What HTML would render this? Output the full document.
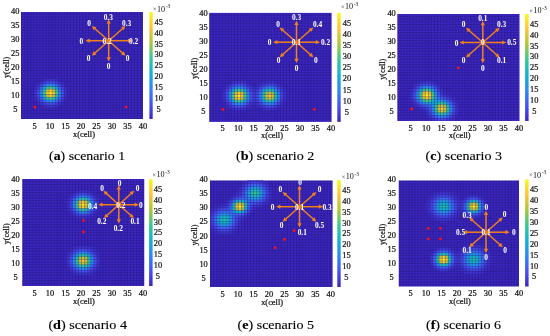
<!DOCTYPE html><html><head><meta charset="utf-8"><title>scenarios</title>
<style>html,body{margin:0;padding:0;background:#fff;}svg{display:block;}text{font-family:'Liberation Serif','Times New Roman',serif;}text.k{stroke:#111;stroke-width:0.22px;}</style></head><body>
<svg width="550" height="336" viewBox="0 0 550 336">
<defs><linearGradient id="cbg" x1="0" y1="0" x2="0" y2="1"><stop offset="0.000" stop-color="#f9fb15"/><stop offset="0.036" stop-color="#faed1d"/><stop offset="0.071" stop-color="#fcdf26"/><stop offset="0.107" stop-color="#fdd12f"/><stop offset="0.143" stop-color="#fec338"/><stop offset="0.179" stop-color="#eac438"/><stop offset="0.214" stop-color="#d5c538"/><stop offset="0.250" stop-color="#c0c639"/><stop offset="0.286" stop-color="#abc739"/><stop offset="0.321" stop-color="#8ec750"/><stop offset="0.357" stop-color="#71c768"/><stop offset="0.393" stop-color="#54c87f"/><stop offset="0.429" stop-color="#37c897"/><stop offset="0.464" stop-color="#2ec2a7"/><stop offset="0.500" stop-color="#24bdb7"/><stop offset="0.536" stop-color="#1bb7c6"/><stop offset="0.571" stop-color="#12b1d6"/><stop offset="0.607" stop-color="#19a7de"/><stop offset="0.643" stop-color="#209ce6"/><stop offset="0.679" stop-color="#2791ef"/><stop offset="0.714" stop-color="#2e87f7"/><stop offset="0.750" stop-color="#347af6"/><stop offset="0.786" stop-color="#3b6df6"/><stop offset="0.821" stop-color="#415ff5"/><stop offset="0.857" stop-color="#4852f4"/><stop offset="0.893" stop-color="#4547e8"/><stop offset="0.929" stop-color="#413cdb"/><stop offset="0.964" stop-color="#3e31ce"/><stop offset="1.000" stop-color="#3b26c2"/></linearGradient></defs>
<g><rect x="21" y="12" width="122" height="107" fill="#3b26c2"/><rect x="42.96" y="78.5" width="3.07" height="2.69" fill="#3d2ecb"/><rect x="46.01" y="78.5" width="3.07" height="2.69" fill="#3f32cf"/><rect x="49.06" y="78.5" width="3.07" height="2.69" fill="#3f34d1"/><rect x="52.11" y="78.5" width="3.07" height="2.69" fill="#3f32cf"/><rect x="55.16" y="78.5" width="3.07" height="2.69" fill="#3d2ecb"/><rect x="36.86" y="81.18" width="3.07" height="2.69" fill="#3d2cc8"/><rect x="39.91" y="81.18" width="3.07" height="2.69" fill="#3f34d1"/><rect x="42.96" y="81.18" width="3.07" height="2.69" fill="#4240df"/><rect x="46.01" y="81.18" width="3.07" height="2.69" fill="#464bec"/><rect x="49.06" y="81.18" width="3.07" height="2.69" fill="#4750f2"/><rect x="52.11" y="81.18" width="3.07" height="2.69" fill="#464bec"/><rect x="55.16" y="81.18" width="3.07" height="2.69" fill="#4240df"/><rect x="58.21" y="81.18" width="3.07" height="2.69" fill="#3f34d1"/><rect x="61.26" y="81.18" width="3.07" height="2.69" fill="#3d2cc8"/><rect x="36.86" y="83.85" width="3.07" height="2.69" fill="#3f34d1"/><rect x="39.91" y="83.85" width="3.07" height="2.69" fill="#4447e7"/><rect x="42.96" y="83.85" width="3.07" height="2.69" fill="#3e66f5"/><rect x="46.01" y="83.85" width="3.07" height="2.69" fill="#2d87f7"/><rect x="49.06" y="83.85" width="3.07" height="2.69" fill="#2692ee"/><rect x="52.11" y="83.85" width="3.07" height="2.69" fill="#2d87f7"/><rect x="55.16" y="83.85" width="3.07" height="2.69" fill="#3e66f5"/><rect x="58.21" y="83.85" width="3.07" height="2.69" fill="#4447e7"/><rect x="61.26" y="83.85" width="3.07" height="2.69" fill="#3f34d1"/><rect x="33.81" y="86.53" width="3.07" height="2.69" fill="#3d2ecb"/><rect x="36.86" y="86.53" width="3.07" height="2.69" fill="#4240df"/><rect x="39.91" y="86.53" width="3.07" height="2.69" fill="#3e66f5"/><rect x="42.96" y="86.53" width="3.07" height="2.69" fill="#1d9fe4"/><rect x="46.01" y="86.53" width="3.07" height="2.69" fill="#2ec2a7"/><rect x="49.06" y="86.53" width="3.07" height="2.69" fill="#54c880"/><rect x="52.11" y="86.53" width="3.07" height="2.69" fill="#2ec2a7"/><rect x="55.16" y="86.53" width="3.07" height="2.69" fill="#1d9fe4"/><rect x="58.21" y="86.53" width="3.07" height="2.69" fill="#3e66f5"/><rect x="61.26" y="86.53" width="3.07" height="2.69" fill="#4240df"/><rect x="64.31" y="86.53" width="3.07" height="2.69" fill="#3d2ecb"/><rect x="33.81" y="89.2" width="3.07" height="2.7" fill="#3f32cf"/><rect x="36.86" y="89.2" width="3.07" height="2.7" fill="#464bec"/><rect x="39.91" y="89.2" width="3.07" height="2.7" fill="#2d87f7"/><rect x="42.96" y="89.2" width="3.07" height="2.7" fill="#2ec2a7"/><rect x="46.01" y="89.2" width="3.07" height="2.7" fill="#d1c538"/><rect x="49.06" y="89.2" width="3.07" height="2.7" fill="#fdcd32"/><rect x="52.11" y="89.2" width="3.07" height="2.7" fill="#d1c538"/><rect x="55.16" y="89.2" width="3.07" height="2.7" fill="#2ec2a7"/><rect x="58.21" y="89.2" width="3.07" height="2.7" fill="#2d87f7"/><rect x="61.26" y="89.2" width="3.07" height="2.7" fill="#464bec"/><rect x="64.31" y="89.2" width="3.07" height="2.7" fill="#3f32cf"/><rect x="33.81" y="91.88" width="3.07" height="2.69" fill="#3f34d1"/><rect x="36.86" y="91.88" width="3.07" height="2.69" fill="#4750f2"/><rect x="39.91" y="91.88" width="3.07" height="2.69" fill="#2692ee"/><rect x="42.96" y="91.88" width="3.07" height="2.69" fill="#54c880"/><rect x="46.01" y="91.88" width="3.07" height="2.69" fill="#fdcd32"/><rect x="49.06" y="91.88" width="3.07" height="2.69" fill="#f9fb15"/><rect x="52.11" y="91.88" width="3.07" height="2.69" fill="#fdcd32"/><rect x="55.16" y="91.88" width="3.07" height="2.69" fill="#54c880"/><rect x="58.21" y="91.88" width="3.07" height="2.69" fill="#2692ee"/><rect x="61.26" y="91.88" width="3.07" height="2.69" fill="#4750f2"/><rect x="64.31" y="91.88" width="3.07" height="2.69" fill="#3f34d1"/><rect x="33.81" y="94.55" width="3.07" height="2.69" fill="#3f32cf"/><rect x="36.86" y="94.55" width="3.07" height="2.69" fill="#464bec"/><rect x="39.91" y="94.55" width="3.07" height="2.69" fill="#2d87f7"/><rect x="42.96" y="94.55" width="3.07" height="2.69" fill="#2ec2a7"/><rect x="46.01" y="94.55" width="3.07" height="2.69" fill="#d1c538"/><rect x="49.06" y="94.55" width="3.07" height="2.69" fill="#fdcd32"/><rect x="52.11" y="94.55" width="3.07" height="2.69" fill="#d1c538"/><rect x="55.16" y="94.55" width="3.07" height="2.69" fill="#2ec2a7"/><rect x="58.21" y="94.55" width="3.07" height="2.69" fill="#2d87f7"/><rect x="61.26" y="94.55" width="3.07" height="2.69" fill="#464bec"/><rect x="64.31" y="94.55" width="3.07" height="2.69" fill="#3f32cf"/><rect x="33.81" y="97.23" width="3.07" height="2.69" fill="#3d2ecb"/><rect x="36.86" y="97.23" width="3.07" height="2.69" fill="#4240df"/><rect x="39.91" y="97.23" width="3.07" height="2.69" fill="#3e66f5"/><rect x="42.96" y="97.23" width="3.07" height="2.69" fill="#1d9fe4"/><rect x="46.01" y="97.23" width="3.07" height="2.69" fill="#2ec2a7"/><rect x="49.06" y="97.23" width="3.07" height="2.69" fill="#54c880"/><rect x="52.11" y="97.23" width="3.07" height="2.69" fill="#2ec2a7"/><rect x="55.16" y="97.23" width="3.07" height="2.69" fill="#1d9fe4"/><rect x="58.21" y="97.23" width="3.07" height="2.69" fill="#3e66f5"/><rect x="61.26" y="97.23" width="3.07" height="2.69" fill="#4240df"/><rect x="64.31" y="97.23" width="3.07" height="2.69" fill="#3d2ecb"/><rect x="36.86" y="99.9" width="3.07" height="2.69" fill="#3f34d1"/><rect x="39.91" y="99.9" width="3.07" height="2.69" fill="#4447e7"/><rect x="42.96" y="99.9" width="3.07" height="2.69" fill="#3e66f5"/><rect x="46.01" y="99.9" width="3.07" height="2.69" fill="#2d87f7"/><rect x="49.06" y="99.9" width="3.07" height="2.69" fill="#2692ee"/><rect x="52.11" y="99.9" width="3.07" height="2.69" fill="#2d87f7"/><rect x="55.16" y="99.9" width="3.07" height="2.69" fill="#3e66f5"/><rect x="58.21" y="99.9" width="3.07" height="2.69" fill="#4447e7"/><rect x="61.26" y="99.9" width="3.07" height="2.69" fill="#3f34d1"/><rect x="36.86" y="102.58" width="3.07" height="2.7" fill="#3d2cc8"/><rect x="39.91" y="102.58" width="3.07" height="2.7" fill="#3f34d1"/><rect x="42.96" y="102.58" width="3.07" height="2.7" fill="#4240df"/><rect x="46.01" y="102.58" width="3.07" height="2.7" fill="#464bec"/><rect x="49.06" y="102.58" width="3.07" height="2.7" fill="#4750f2"/><rect x="52.11" y="102.58" width="3.07" height="2.7" fill="#464bec"/><rect x="55.16" y="102.58" width="3.07" height="2.7" fill="#4240df"/><rect x="58.21" y="102.58" width="3.07" height="2.7" fill="#3f34d1"/><rect x="61.26" y="102.58" width="3.07" height="2.7" fill="#3d2cc8"/><rect x="42.96" y="105.25" width="3.07" height="2.69" fill="#3d2ecb"/><rect x="46.01" y="105.25" width="3.07" height="2.69" fill="#3f32cf"/><rect x="49.06" y="105.25" width="3.07" height="2.69" fill="#3f34d1"/><rect x="52.11" y="105.25" width="3.07" height="2.69" fill="#3f32cf"/><rect x="55.16" y="105.25" width="3.07" height="2.69" fill="#3d2ecb"/><path d="M21.61,12V119M24.66,12V119M27.71,12V119M30.76,12V119M33.81,12V119M36.86,12V119M39.91,12V119M42.96,12V119M46.01,12V119M49.06,12V119M52.11,12V119M55.16,12V119M58.21,12V119M61.26,12V119M64.31,12V119M67.36,12V119M70.41,12V119M73.46,12V119M76.51,12V119M79.56,12V119M82.61,12V119M85.66,12V119M88.71,12V119M91.76,12V119M94.81,12V119M97.86,12V119M100.91,12V119M103.96,12V119M107.01,12V119M110.06,12V119M113.11,12V119M116.16,12V119M119.21,12V119M122.26,12V119M125.31,12V119M128.36,12V119M131.41,12V119M134.46,12V119M137.51,12V119M140.56,12V119M21,14.3H143M21,16.98H143M21,19.65H143M21,22.33H143M21,25H143M21,27.68H143M21,30.35H143M21,33.03H143M21,35.7H143M21,38.38H143M21,41.05H143M21,43.73H143M21,46.4H143M21,49.08H143M21,51.75H143M21,54.43H143M21,57.1H143M21,59.78H143M21,62.45H143M21,65.13H143M21,67.8H143M21,70.48H143M21,73.15H143M21,75.83H143M21,78.5H143M21,81.18H143M21,83.85H143M21,86.53H143M21,89.2H143M21,91.88H143M21,94.55H143M21,97.23H143M21,99.9H143M21,102.58H143M21,105.25H143M21,107.93H143M21,110.6H143M21,113.28H143M21,115.95H143M21,118.63H143" stroke="#000" stroke-opacity="0.2" stroke-width="0.8" fill="none"/><circle cx="34.9" cy="107.1" r="1.4" fill="#ff1010"/><circle cx="126.2" cy="107.1" r="1.4" fill="#ff1010"/><line x1="108.7" y1="40.7" x2="108.7" y2="23" stroke="#f3801a" stroke-width="1.5"/><polygon points="108.7,19.3 110.8,23.5 106.6,23.5" fill="#f3801a"/><line x1="108.7" y1="40.7" x2="122.72" y2="28.44" stroke="#f3801a" stroke-width="1.5"/><polygon points="125.5,26 123.72,30.35 120.96,27.19" fill="#f3801a"/><line x1="108.7" y1="40.7" x2="128.5" y2="40.7" stroke="#f3801a" stroke-width="1.5"/><polygon points="132.2,40.7 128,42.8 128,38.6" fill="#f3801a"/><line x1="108.7" y1="40.7" x2="122.74" y2="53.24" stroke="#f3801a" stroke-width="1.5"/><polygon points="125.5,55.7 120.97,54.47 123.77,51.34" fill="#f3801a"/><line x1="108.7" y1="40.7" x2="108.7" y2="57.8" stroke="#f3801a" stroke-width="1.5"/><polygon points="108.7,61.5 106.6,57.3 110.8,57.3" fill="#f3801a"/><line x1="108.7" y1="40.7" x2="94.66" y2="53.24" stroke="#f3801a" stroke-width="1.5"/><polygon points="91.9,55.7 93.63,51.34 96.43,54.47" fill="#f3801a"/><line x1="108.7" y1="40.7" x2="89.1" y2="40.7" stroke="#f3801a" stroke-width="1.5"/><polygon points="85.4,40.7 89.6,38.6 89.6,42.8" fill="#f3801a"/><line x1="108.7" y1="40.7" x2="94.68" y2="28.44" stroke="#f3801a" stroke-width="1.5"/><polygon points="91.9,26 96.44,27.19 93.68,30.35" fill="#f3801a"/><text transform="translate(108.3,17.4) scale(1,1.0)" font-size="7.4" font-weight="bold" fill="#fff" text-anchor="middle" dominant-baseline="central">0.3</text><text transform="translate(126.7,23.2) scale(1,1.0)" font-size="7.4" font-weight="bold" fill="#fff" text-anchor="middle" dominant-baseline="central">0.3</text><text transform="translate(133.7,41.6) scale(1,1.0)" font-size="7.4" font-weight="bold" fill="#fff" text-anchor="middle" dominant-baseline="central">0.2</text><text transform="translate(127.5,58.7) scale(1,1.0)" font-size="7.4" font-weight="bold" fill="#fff" text-anchor="middle" dominant-baseline="central">0</text><text transform="translate(108.7,66.6) scale(1,1.0)" font-size="7.4" font-weight="bold" fill="#fff" text-anchor="middle" dominant-baseline="central">0</text><text transform="translate(88.7,58.7) scale(1,1.0)" font-size="7.4" font-weight="bold" fill="#fff" text-anchor="middle" dominant-baseline="central">0</text><text transform="translate(81.3,41.6) scale(1,1.0)" font-size="7.4" font-weight="bold" fill="#fff" text-anchor="middle" dominant-baseline="central">0</text><text transform="translate(89.2,23.7) scale(1,1.0)" font-size="7.4" font-weight="bold" fill="#fff" text-anchor="middle" dominant-baseline="central">0</text><text transform="translate(107.2,41.6) scale(1,1.0)" font-size="7.4" font-weight="bold" fill="#fff" text-anchor="middle" dominant-baseline="central">0.2</text><text transform="translate(15.3,11.6) scale(1,1.0)" font-size="8.4" fill="#111" text-anchor="middle" dominant-baseline="central" class="k">40</text><text transform="translate(15.3,25.63) scale(1,1.0)" font-size="8.4" fill="#111" text-anchor="middle" dominant-baseline="central" class="k">35</text><text transform="translate(15.3,39.66) scale(1,1.0)" font-size="8.4" fill="#111" text-anchor="middle" dominant-baseline="central" class="k">30</text><text transform="translate(15.3,53.69) scale(1,1.0)" font-size="8.4" fill="#111" text-anchor="middle" dominant-baseline="central" class="k">25</text><text transform="translate(15.3,67.71) scale(1,1.0)" font-size="8.4" fill="#111" text-anchor="middle" dominant-baseline="central" class="k">20</text><text transform="translate(15.3,81.74) scale(1,1.0)" font-size="8.4" fill="#111" text-anchor="middle" dominant-baseline="central" class="k">15</text><text transform="translate(15.3,95.77) scale(1,1.0)" font-size="8.4" fill="#111" text-anchor="middle" dominant-baseline="central" class="k">10</text><text transform="translate(15.3,109.8) scale(1,1.0)" font-size="8.4" fill="#111" text-anchor="middle" dominant-baseline="central" class="k">5</text><text transform="translate(34.5,126.2) scale(1,1.0)" font-size="8.4" fill="#111" text-anchor="middle" dominant-baseline="central" class="k">5</text><text transform="translate(49.99,126.2) scale(1,1.0)" font-size="8.4" fill="#111" text-anchor="middle" dominant-baseline="central" class="k">10</text><text transform="translate(65.47,126.2) scale(1,1.0)" font-size="8.4" fill="#111" text-anchor="middle" dominant-baseline="central" class="k">15</text><text transform="translate(80.96,126.2) scale(1,1.0)" font-size="8.4" fill="#111" text-anchor="middle" dominant-baseline="central" class="k">20</text><text transform="translate(96.44,126.2) scale(1,1.0)" font-size="8.4" fill="#111" text-anchor="middle" dominant-baseline="central" class="k">25</text><text transform="translate(111.93,126.2) scale(1,1.0)" font-size="8.4" fill="#111" text-anchor="middle" dominant-baseline="central" class="k">30</text><text transform="translate(127.41,126.2) scale(1,1.0)" font-size="8.4" fill="#111" text-anchor="middle" dominant-baseline="central" class="k">35</text><text transform="translate(142.9,126.2) scale(1,1.0)" font-size="8.4" fill="#111" text-anchor="middle" dominant-baseline="central" class="k">40</text><text transform="translate(84,134.5) scale(1,1.0)" font-size="8.4" fill="#111" text-anchor="middle" dominant-baseline="central" class="k">x(cell)</text><text transform="translate(6.7,67.4) rotate(-90) scale(1,1)" font-size="8.1" fill="#111" class="k" text-anchor="middle" dominant-baseline="central">y(cell)</text><rect x="149.4" y="12" width="3.3" height="107" fill="url(#cbg)"/><text transform="translate(158.7,109.4) scale(1,1.0)" font-size="8.4" fill="#111" text-anchor="middle" dominant-baseline="central" class="k">5</text><text transform="translate(158.7,98.51) scale(1,1.0)" font-size="8.4" fill="#111" text-anchor="middle" dominant-baseline="central" class="k">10</text><text transform="translate(158.7,87.62) scale(1,1.0)" font-size="8.4" fill="#111" text-anchor="middle" dominant-baseline="central" class="k">15</text><text transform="translate(158.7,76.74) scale(1,1.0)" font-size="8.4" fill="#111" text-anchor="middle" dominant-baseline="central" class="k">20</text><text transform="translate(158.7,65.85) scale(1,1.0)" font-size="8.4" fill="#111" text-anchor="middle" dominant-baseline="central" class="k">25</text><text transform="translate(158.7,54.96) scale(1,1.0)" font-size="8.4" fill="#111" text-anchor="middle" dominant-baseline="central" class="k">30</text><text transform="translate(158.7,44.08) scale(1,1.0)" font-size="8.4" fill="#111" text-anchor="middle" dominant-baseline="central" class="k">35</text><text transform="translate(158.7,33.19) scale(1,1.0)" font-size="8.4" fill="#111" text-anchor="middle" dominant-baseline="central" class="k">40</text><text transform="translate(158.7,22.3) scale(1,1.0)" font-size="8.4" fill="#111" text-anchor="middle" dominant-baseline="central" class="k">45</text><text transform="translate(157,11.9) scale(1,1)" font-size="8.2" fill="#111"><tspan font-size="6" x="-4" dy="-0.6">&#215;</tspan><tspan x="0" dy="0.6">10</tspan><tspan font-size="5.4" dx="0.6" dy="-3.6">-3</tspan></text><text x="49.1" y="160" font-size="12" fill="#000" stroke="#000" stroke-width="0.12" textLength="76" lengthAdjust="spacingAndGlyphs">(<tspan font-weight="bold">a</tspan>) scenario 1</text></g>
<g><rect x="209.25" y="12.9" width="122.35" height="109" fill="#3b26c2"/><rect x="231.46" y="80.83" width="3.08" height="2.75" fill="#3d2ecb"/><rect x="234.52" y="80.83" width="3.08" height="2.75" fill="#3f32cf"/><rect x="237.57" y="80.83" width="3.08" height="2.75" fill="#3f34d1"/><rect x="240.63" y="80.83" width="3.08" height="2.75" fill="#3f32cf"/><rect x="243.69" y="80.83" width="3.08" height="2.75" fill="#3d2ecb"/><rect x="262.04" y="80.83" width="3.08" height="2.75" fill="#3d2dca"/><rect x="265.1" y="80.83" width="3.08" height="2.75" fill="#3e31ce"/><rect x="268.16" y="80.83" width="3.08" height="2.75" fill="#3f32cf"/><rect x="271.22" y="80.83" width="3.08" height="2.75" fill="#3e31ce"/><rect x="274.28" y="80.83" width="3.08" height="2.75" fill="#3d2dca"/><rect x="225.34" y="83.56" width="3.08" height="2.74" fill="#3d2cc8"/><rect x="228.4" y="83.56" width="3.08" height="2.74" fill="#3f34d1"/><rect x="231.46" y="83.56" width="3.08" height="2.74" fill="#4240df"/><rect x="234.52" y="83.56" width="3.08" height="2.74" fill="#464bec"/><rect x="237.57" y="83.56" width="3.08" height="2.74" fill="#4750f2"/><rect x="240.63" y="83.56" width="3.08" height="2.74" fill="#464bec"/><rect x="243.69" y="83.56" width="3.08" height="2.74" fill="#4240df"/><rect x="246.75" y="83.56" width="3.08" height="2.74" fill="#3f34d1"/><rect x="249.81" y="83.56" width="3.08" height="2.74" fill="#3d2cc9"/><rect x="255.93" y="83.56" width="3.08" height="2.74" fill="#3d2cc8"/><rect x="258.99" y="83.56" width="3.08" height="2.74" fill="#3f32d0"/><rect x="262.04" y="83.56" width="3.08" height="2.74" fill="#413ddb"/><rect x="265.1" y="83.56" width="3.08" height="2.74" fill="#4447e7"/><rect x="268.16" y="83.56" width="3.08" height="2.74" fill="#464bec"/><rect x="271.22" y="83.56" width="3.08" height="2.74" fill="#4447e7"/><rect x="274.28" y="83.56" width="3.08" height="2.74" fill="#413ddb"/><rect x="277.34" y="83.56" width="3.08" height="2.74" fill="#3f32cf"/><rect x="280.4" y="83.56" width="3.08" height="2.74" fill="#3d2bc7"/><rect x="225.34" y="86.28" width="3.08" height="2.74" fill="#3f34d1"/><rect x="228.4" y="86.28" width="3.08" height="2.74" fill="#4447e7"/><rect x="231.46" y="86.28" width="3.08" height="2.74" fill="#3e66f5"/><rect x="234.52" y="86.28" width="3.08" height="2.74" fill="#2d87f7"/><rect x="237.57" y="86.28" width="3.08" height="2.74" fill="#2692ee"/><rect x="240.63" y="86.28" width="3.08" height="2.74" fill="#2d87f7"/><rect x="243.69" y="86.28" width="3.08" height="2.74" fill="#3e66f5"/><rect x="246.75" y="86.28" width="3.08" height="2.74" fill="#4447e7"/><rect x="249.81" y="86.28" width="3.08" height="2.74" fill="#3f35d2"/><rect x="252.87" y="86.28" width="3.08" height="2.74" fill="#3e2fcb"/><rect x="255.93" y="86.28" width="3.08" height="2.74" fill="#3f33d1"/><rect x="258.99" y="86.28" width="3.08" height="2.74" fill="#4343e3"/><rect x="262.04" y="86.28" width="3.08" height="2.74" fill="#425ef5"/><rect x="265.1" y="86.28" width="3.08" height="2.74" fill="#347bf6"/><rect x="268.16" y="86.28" width="3.08" height="2.74" fill="#2e87f7"/><rect x="271.22" y="86.28" width="3.08" height="2.74" fill="#347bf6"/><rect x="274.28" y="86.28" width="3.08" height="2.74" fill="#425ef5"/><rect x="277.34" y="86.28" width="3.08" height="2.74" fill="#4343e3"/><rect x="280.4" y="86.28" width="3.08" height="2.74" fill="#3f32cf"/><rect x="222.28" y="89.01" width="3.08" height="2.75" fill="#3d2ecb"/><rect x="225.34" y="89.01" width="3.08" height="2.75" fill="#4240df"/><rect x="228.4" y="89.01" width="3.08" height="2.75" fill="#3e66f5"/><rect x="231.46" y="89.01" width="3.08" height="2.75" fill="#1d9fe4"/><rect x="234.52" y="89.01" width="3.08" height="2.75" fill="#2ec2a7"/><rect x="237.57" y="89.01" width="3.08" height="2.75" fill="#54c880"/><rect x="240.63" y="89.01" width="3.08" height="2.75" fill="#2ec2a7"/><rect x="243.69" y="89.01" width="3.08" height="2.75" fill="#1d9fe4"/><rect x="246.75" y="89.01" width="3.08" height="2.75" fill="#3e67f5"/><rect x="249.81" y="89.01" width="3.08" height="2.75" fill="#4341e1"/><rect x="252.87" y="89.01" width="3.08" height="2.75" fill="#4036d3"/><rect x="255.93" y="89.01" width="3.08" height="2.75" fill="#423fde"/><rect x="258.99" y="89.01" width="3.08" height="2.75" fill="#425ef5"/><rect x="262.04" y="89.01" width="3.08" height="2.75" fill="#2692ee"/><rect x="265.1" y="89.01" width="3.08" height="2.75" fill="#1db8c3"/><rect x="268.16" y="89.01" width="3.08" height="2.75" fill="#2dc2a8"/><rect x="271.22" y="89.01" width="3.08" height="2.75" fill="#1db8c3"/><rect x="274.28" y="89.01" width="3.08" height="2.75" fill="#2692ee"/><rect x="277.34" y="89.01" width="3.08" height="2.75" fill="#425ef5"/><rect x="280.4" y="89.01" width="3.08" height="2.75" fill="#413ddb"/><rect x="283.46" y="89.01" width="3.08" height="2.75" fill="#3d2dca"/><rect x="222.28" y="91.73" width="3.08" height="2.74" fill="#3f32cf"/><rect x="225.34" y="91.73" width="3.08" height="2.74" fill="#464bec"/><rect x="228.4" y="91.73" width="3.08" height="2.74" fill="#2d87f7"/><rect x="231.46" y="91.73" width="3.08" height="2.74" fill="#2ec2a7"/><rect x="234.52" y="91.73" width="3.08" height="2.74" fill="#d1c538"/><rect x="237.57" y="91.73" width="3.08" height="2.74" fill="#fdcd32"/><rect x="240.63" y="91.73" width="3.08" height="2.74" fill="#d1c538"/><rect x="243.69" y="91.73" width="3.08" height="2.74" fill="#2ec2a7"/><rect x="246.75" y="91.73" width="3.08" height="2.74" fill="#2d88f6"/><rect x="249.81" y="91.73" width="3.08" height="2.74" fill="#464eef"/><rect x="252.87" y="91.73" width="3.08" height="2.74" fill="#423ddc"/><rect x="255.93" y="91.73" width="3.08" height="2.74" fill="#454aea"/><rect x="258.99" y="91.73" width="3.08" height="2.74" fill="#337bf6"/><rect x="262.04" y="91.73" width="3.08" height="2.74" fill="#1db8c3"/><rect x="265.1" y="91.73" width="3.08" height="2.74" fill="#94c74c"/><rect x="268.16" y="91.73" width="3.08" height="2.74" fill="#d0c538"/><rect x="271.22" y="91.73" width="3.08" height="2.74" fill="#94c74c"/><rect x="274.28" y="91.73" width="3.08" height="2.74" fill="#1db8c3"/><rect x="277.34" y="91.73" width="3.08" height="2.74" fill="#347bf6"/><rect x="280.4" y="91.73" width="3.08" height="2.74" fill="#4447e7"/><rect x="283.46" y="91.73" width="3.08" height="2.74" fill="#3e31ce"/><rect x="222.28" y="94.46" width="3.08" height="2.75" fill="#3f34d1"/><rect x="225.34" y="94.46" width="3.08" height="2.75" fill="#4750f2"/><rect x="228.4" y="94.46" width="3.08" height="2.75" fill="#2692ee"/><rect x="231.46" y="94.46" width="3.08" height="2.75" fill="#54c880"/><rect x="234.52" y="94.46" width="3.08" height="2.75" fill="#fdcd32"/><rect x="237.57" y="94.46" width="3.08" height="2.75" fill="#f9fb15"/><rect x="240.63" y="94.46" width="3.08" height="2.75" fill="#fdcd32"/><rect x="243.69" y="94.46" width="3.08" height="2.75" fill="#54c880"/><rect x="246.75" y="94.46" width="3.08" height="2.75" fill="#2693ed"/><rect x="249.81" y="94.46" width="3.08" height="2.75" fill="#4753f4"/><rect x="252.87" y="94.46" width="3.08" height="2.75" fill="#4240df"/><rect x="255.93" y="94.46" width="3.08" height="2.75" fill="#474ef0"/><rect x="258.99" y="94.46" width="3.08" height="2.75" fill="#2d88f6"/><rect x="262.04" y="94.46" width="3.08" height="2.75" fill="#2dc2a8"/><rect x="265.1" y="94.46" width="3.08" height="2.75" fill="#d0c538"/><rect x="268.16" y="94.46" width="3.08" height="2.75" fill="#fdcc32"/><rect x="271.22" y="94.46" width="3.08" height="2.75" fill="#d0c538"/><rect x="274.28" y="94.46" width="3.08" height="2.75" fill="#2dc2a8"/><rect x="277.34" y="94.46" width="3.08" height="2.75" fill="#2e87f7"/><rect x="280.4" y="94.46" width="3.08" height="2.75" fill="#464bec"/><rect x="283.46" y="94.46" width="3.08" height="2.75" fill="#3f32cf"/><rect x="222.28" y="97.18" width="3.08" height="2.74" fill="#3f32cf"/><rect x="225.34" y="97.18" width="3.08" height="2.74" fill="#464bec"/><rect x="228.4" y="97.18" width="3.08" height="2.74" fill="#2d87f7"/><rect x="231.46" y="97.18" width="3.08" height="2.74" fill="#2ec2a7"/><rect x="234.52" y="97.18" width="3.08" height="2.74" fill="#d1c538"/><rect x="237.57" y="97.18" width="3.08" height="2.74" fill="#fdcd32"/><rect x="240.63" y="97.18" width="3.08" height="2.74" fill="#d1c538"/><rect x="243.69" y="97.18" width="3.08" height="2.74" fill="#2ec2a7"/><rect x="246.75" y="97.18" width="3.08" height="2.74" fill="#2d88f6"/><rect x="249.81" y="97.18" width="3.08" height="2.74" fill="#464eef"/><rect x="252.87" y="97.18" width="3.08" height="2.74" fill="#423ddc"/><rect x="255.93" y="97.18" width="3.08" height="2.74" fill="#454aea"/><rect x="258.99" y="97.18" width="3.08" height="2.74" fill="#337bf6"/><rect x="262.04" y="97.18" width="3.08" height="2.74" fill="#1db8c3"/><rect x="265.1" y="97.18" width="3.08" height="2.74" fill="#94c74c"/><rect x="268.16" y="97.18" width="3.08" height="2.74" fill="#d0c538"/><rect x="271.22" y="97.18" width="3.08" height="2.74" fill="#94c74c"/><rect x="274.28" y="97.18" width="3.08" height="2.74" fill="#1db8c3"/><rect x="277.34" y="97.18" width="3.08" height="2.74" fill="#347bf6"/><rect x="280.4" y="97.18" width="3.08" height="2.74" fill="#4447e7"/><rect x="283.46" y="97.18" width="3.08" height="2.74" fill="#3e31ce"/><rect x="222.28" y="99.91" width="3.08" height="2.74" fill="#3d2ecb"/><rect x="225.34" y="99.91" width="3.08" height="2.74" fill="#4240df"/><rect x="228.4" y="99.91" width="3.08" height="2.74" fill="#3e66f5"/><rect x="231.46" y="99.91" width="3.08" height="2.74" fill="#1d9fe4"/><rect x="234.52" y="99.91" width="3.08" height="2.74" fill="#2ec2a7"/><rect x="237.57" y="99.91" width="3.08" height="2.74" fill="#54c880"/><rect x="240.63" y="99.91" width="3.08" height="2.74" fill="#2ec2a7"/><rect x="243.69" y="99.91" width="3.08" height="2.74" fill="#1d9fe4"/><rect x="246.75" y="99.91" width="3.08" height="2.74" fill="#3e67f5"/><rect x="249.81" y="99.91" width="3.08" height="2.74" fill="#4341e1"/><rect x="252.87" y="99.91" width="3.08" height="2.74" fill="#4036d3"/><rect x="255.93" y="99.91" width="3.08" height="2.74" fill="#423fde"/><rect x="258.99" y="99.91" width="3.08" height="2.74" fill="#425ef5"/><rect x="262.04" y="99.91" width="3.08" height="2.74" fill="#2692ee"/><rect x="265.1" y="99.91" width="3.08" height="2.74" fill="#1db8c3"/><rect x="268.16" y="99.91" width="3.08" height="2.74" fill="#2dc2a8"/><rect x="271.22" y="99.91" width="3.08" height="2.74" fill="#1db8c3"/><rect x="274.28" y="99.91" width="3.08" height="2.74" fill="#2692ee"/><rect x="277.34" y="99.91" width="3.08" height="2.74" fill="#425ef5"/><rect x="280.4" y="99.91" width="3.08" height="2.74" fill="#413ddb"/><rect x="283.46" y="99.91" width="3.08" height="2.74" fill="#3d2dca"/><rect x="225.34" y="102.63" width="3.08" height="2.75" fill="#3f34d1"/><rect x="228.4" y="102.63" width="3.08" height="2.75" fill="#4447e7"/><rect x="231.46" y="102.63" width="3.08" height="2.75" fill="#3e66f5"/><rect x="234.52" y="102.63" width="3.08" height="2.75" fill="#2d87f7"/><rect x="237.57" y="102.63" width="3.08" height="2.75" fill="#2692ee"/><rect x="240.63" y="102.63" width="3.08" height="2.75" fill="#2d87f7"/><rect x="243.69" y="102.63" width="3.08" height="2.75" fill="#3e66f5"/><rect x="246.75" y="102.63" width="3.08" height="2.75" fill="#4447e7"/><rect x="249.81" y="102.63" width="3.08" height="2.75" fill="#3f35d2"/><rect x="252.87" y="102.63" width="3.08" height="2.75" fill="#3e2fcb"/><rect x="255.93" y="102.63" width="3.08" height="2.75" fill="#3f33d1"/><rect x="258.99" y="102.63" width="3.08" height="2.75" fill="#4343e3"/><rect x="262.04" y="102.63" width="3.08" height="2.75" fill="#425ef5"/><rect x="265.1" y="102.63" width="3.08" height="2.75" fill="#347bf6"/><rect x="268.16" y="102.63" width="3.08" height="2.75" fill="#2e87f7"/><rect x="271.22" y="102.63" width="3.08" height="2.75" fill="#347bf6"/><rect x="274.28" y="102.63" width="3.08" height="2.75" fill="#425ef5"/><rect x="277.34" y="102.63" width="3.08" height="2.75" fill="#4343e3"/><rect x="280.4" y="102.63" width="3.08" height="2.75" fill="#3f32cf"/><rect x="225.34" y="105.36" width="3.08" height="2.74" fill="#3d2cc8"/><rect x="228.4" y="105.36" width="3.08" height="2.74" fill="#3f34d1"/><rect x="231.46" y="105.36" width="3.08" height="2.74" fill="#4240df"/><rect x="234.52" y="105.36" width="3.08" height="2.74" fill="#464bec"/><rect x="237.57" y="105.36" width="3.08" height="2.74" fill="#4750f2"/><rect x="240.63" y="105.36" width="3.08" height="2.74" fill="#464bec"/><rect x="243.69" y="105.36" width="3.08" height="2.74" fill="#4240df"/><rect x="246.75" y="105.36" width="3.08" height="2.74" fill="#3f34d1"/><rect x="249.81" y="105.36" width="3.08" height="2.74" fill="#3d2cc9"/><rect x="255.93" y="105.36" width="3.08" height="2.74" fill="#3d2cc8"/><rect x="258.99" y="105.36" width="3.08" height="2.74" fill="#3f32d0"/><rect x="262.04" y="105.36" width="3.08" height="2.74" fill="#413ddb"/><rect x="265.1" y="105.36" width="3.08" height="2.74" fill="#4447e7"/><rect x="268.16" y="105.36" width="3.08" height="2.74" fill="#464bec"/><rect x="271.22" y="105.36" width="3.08" height="2.74" fill="#4447e7"/><rect x="274.28" y="105.36" width="3.08" height="2.74" fill="#413ddb"/><rect x="277.34" y="105.36" width="3.08" height="2.74" fill="#3f32cf"/><rect x="280.4" y="105.36" width="3.08" height="2.74" fill="#3d2bc7"/><rect x="231.46" y="108.08" width="3.08" height="2.75" fill="#3d2ecb"/><rect x="234.52" y="108.08" width="3.08" height="2.75" fill="#3f32cf"/><rect x="237.57" y="108.08" width="3.08" height="2.75" fill="#3f34d1"/><rect x="240.63" y="108.08" width="3.08" height="2.75" fill="#3f32cf"/><rect x="243.69" y="108.08" width="3.08" height="2.75" fill="#3d2ecb"/><rect x="262.04" y="108.08" width="3.08" height="2.75" fill="#3d2dca"/><rect x="265.1" y="108.08" width="3.08" height="2.75" fill="#3e31ce"/><rect x="268.16" y="108.08" width="3.08" height="2.75" fill="#3f32cf"/><rect x="271.22" y="108.08" width="3.08" height="2.75" fill="#3e31ce"/><rect x="274.28" y="108.08" width="3.08" height="2.75" fill="#3d2dca"/><path d="M210.05,12.9V121.9M213.1,12.9V121.9M216.16,12.9V121.9M219.22,12.9V121.9M222.28,12.9V121.9M225.34,12.9V121.9M228.4,12.9V121.9M231.46,12.9V121.9M234.52,12.9V121.9M237.57,12.9V121.9M240.63,12.9V121.9M243.69,12.9V121.9M246.75,12.9V121.9M249.81,12.9V121.9M252.87,12.9V121.9M255.93,12.9V121.9M258.99,12.9V121.9M262.04,12.9V121.9M265.1,12.9V121.9M268.16,12.9V121.9M271.22,12.9V121.9M274.28,12.9V121.9M277.34,12.9V121.9M280.4,12.9V121.9M283.46,12.9V121.9M286.51,12.9V121.9M289.57,12.9V121.9M292.63,12.9V121.9M295.69,12.9V121.9M298.75,12.9V121.9M301.81,12.9V121.9M304.87,12.9V121.9M307.93,12.9V121.9M310.98,12.9V121.9M314.04,12.9V121.9M317.1,12.9V121.9M320.16,12.9V121.9M323.22,12.9V121.9M326.28,12.9V121.9M329.34,12.9V121.9M209.25,15.43H331.6M209.25,18.16H331.6M209.25,20.88H331.6M209.25,23.61H331.6M209.25,26.33H331.6M209.25,29.06H331.6M209.25,31.78H331.6M209.25,34.51H331.6M209.25,37.23H331.6M209.25,39.96H331.6M209.25,42.68H331.6M209.25,45.41H331.6M209.25,48.13H331.6M209.25,50.86H331.6M209.25,53.58H331.6M209.25,56.31H331.6M209.25,59.03H331.6M209.25,61.76H331.6M209.25,64.48H331.6M209.25,67.21H331.6M209.25,69.93H331.6M209.25,72.66H331.6M209.25,75.38H331.6M209.25,78.11H331.6M209.25,80.83H331.6M209.25,83.56H331.6M209.25,86.28H331.6M209.25,89.01H331.6M209.25,91.73H331.6M209.25,94.46H331.6M209.25,97.18H331.6M209.25,99.91H331.6M209.25,102.63H331.6M209.25,105.36H331.6M209.25,108.08H331.6M209.25,110.81H331.6M209.25,113.53H331.6M209.25,116.26H331.6M209.25,118.98H331.6" stroke="#000" stroke-opacity="0.2" stroke-width="0.8" fill="none"/><circle cx="223" cy="109.4" r="1.4" fill="#ff1010"/><circle cx="314.4" cy="109.4" r="1.4" fill="#ff1010"/><line x1="296.5" y1="42.2" x2="296.5" y2="24.5" stroke="#f3801a" stroke-width="1.5"/><polygon points="296.5,20.8 298.6,25 294.4,25" fill="#f3801a"/><line x1="296.5" y1="42.2" x2="310.52" y2="29.94" stroke="#f3801a" stroke-width="1.5"/><polygon points="313.3,27.5 311.52,31.85 308.76,28.69" fill="#f3801a"/><line x1="296.5" y1="42.2" x2="316.3" y2="42.2" stroke="#f3801a" stroke-width="1.5"/><polygon points="320,42.2 315.8,44.3 315.8,40.1" fill="#f3801a"/><line x1="296.5" y1="42.2" x2="310.54" y2="54.74" stroke="#f3801a" stroke-width="1.5"/><polygon points="313.3,57.2 308.77,55.97 311.57,52.84" fill="#f3801a"/><line x1="296.5" y1="42.2" x2="296.5" y2="59.3" stroke="#f3801a" stroke-width="1.5"/><polygon points="296.5,63 294.4,58.8 298.6,58.8" fill="#f3801a"/><line x1="296.5" y1="42.2" x2="282.46" y2="54.74" stroke="#f3801a" stroke-width="1.5"/><polygon points="279.7,57.2 281.43,52.84 284.23,55.97" fill="#f3801a"/><line x1="296.5" y1="42.2" x2="276.9" y2="42.2" stroke="#f3801a" stroke-width="1.5"/><polygon points="273.2,42.2 277.4,40.1 277.4,44.3" fill="#f3801a"/><line x1="296.5" y1="42.2" x2="282.48" y2="29.94" stroke="#f3801a" stroke-width="1.5"/><polygon points="279.7,27.5 284.24,28.69 281.48,31.85" fill="#f3801a"/><text transform="translate(296.5,17.7) scale(1,1.0)" font-size="7.4" font-weight="bold" fill="#fff" text-anchor="middle" dominant-baseline="central">0.3</text><text transform="translate(317.5,24.15) scale(1,1.0)" font-size="7.4" font-weight="bold" fill="#fff" text-anchor="middle" dominant-baseline="central">0.4</text><text transform="translate(325.5,42.9) scale(1,1.0)" font-size="7.4" font-weight="bold" fill="#fff" text-anchor="middle" dominant-baseline="central">0.2</text><text transform="translate(315.75,60.4) scale(1,1.0)" font-size="7.4" font-weight="bold" fill="#fff" text-anchor="middle" dominant-baseline="central">0</text><text transform="translate(296.5,68.2) scale(1,1.0)" font-size="7.4" font-weight="bold" fill="#fff" text-anchor="middle" dominant-baseline="central">0</text><text transform="translate(278.5,60.7) scale(1,1.0)" font-size="7.4" font-weight="bold" fill="#fff" text-anchor="middle" dominant-baseline="central">0</text><text transform="translate(269.7,42.7) scale(1,1.0)" font-size="7.4" font-weight="bold" fill="#fff" text-anchor="middle" dominant-baseline="central">0</text><text transform="translate(278,24.1) scale(1,1.0)" font-size="7.4" font-weight="bold" fill="#fff" text-anchor="middle" dominant-baseline="central">0</text><text transform="translate(296.25,42.9) scale(1,1.0)" font-size="7.4" font-weight="bold" fill="#fff" text-anchor="middle" dominant-baseline="central">0.1</text><text transform="translate(203.4,13.4) scale(1,1.0)" font-size="8.4" fill="#111" text-anchor="middle" dominant-baseline="central" class="k">40</text><text transform="translate(203.4,27.43) scale(1,1.0)" font-size="8.4" fill="#111" text-anchor="middle" dominant-baseline="central" class="k">35</text><text transform="translate(203.4,41.46) scale(1,1.0)" font-size="8.4" fill="#111" text-anchor="middle" dominant-baseline="central" class="k">30</text><text transform="translate(203.4,55.49) scale(1,1.0)" font-size="8.4" fill="#111" text-anchor="middle" dominant-baseline="central" class="k">25</text><text transform="translate(203.4,69.51) scale(1,1.0)" font-size="8.4" fill="#111" text-anchor="middle" dominant-baseline="central" class="k">20</text><text transform="translate(203.4,83.54) scale(1,1.0)" font-size="8.4" fill="#111" text-anchor="middle" dominant-baseline="central" class="k">15</text><text transform="translate(203.4,97.57) scale(1,1.0)" font-size="8.4" fill="#111" text-anchor="middle" dominant-baseline="central" class="k">10</text><text transform="translate(203.4,111.6) scale(1,1.0)" font-size="8.4" fill="#111" text-anchor="middle" dominant-baseline="central" class="k">5</text><text transform="translate(222.7,128.4) scale(1,1.0)" font-size="8.4" fill="#111" text-anchor="middle" dominant-baseline="central" class="k">5</text><text transform="translate(238.16,128.4) scale(1,1.0)" font-size="8.4" fill="#111" text-anchor="middle" dominant-baseline="central" class="k">10</text><text transform="translate(253.61,128.4) scale(1,1.0)" font-size="8.4" fill="#111" text-anchor="middle" dominant-baseline="central" class="k">15</text><text transform="translate(269.07,128.4) scale(1,1.0)" font-size="8.4" fill="#111" text-anchor="middle" dominant-baseline="central" class="k">20</text><text transform="translate(284.53,128.4) scale(1,1.0)" font-size="8.4" fill="#111" text-anchor="middle" dominant-baseline="central" class="k">25</text><text transform="translate(299.99,128.4) scale(1,1.0)" font-size="8.4" fill="#111" text-anchor="middle" dominant-baseline="central" class="k">30</text><text transform="translate(315.44,128.4) scale(1,1.0)" font-size="8.4" fill="#111" text-anchor="middle" dominant-baseline="central" class="k">35</text><text transform="translate(330.9,128.4) scale(1,1.0)" font-size="8.4" fill="#111" text-anchor="middle" dominant-baseline="central" class="k">40</text><text transform="translate(272,135.8) scale(1,1.0)" font-size="8.4" fill="#111" text-anchor="middle" dominant-baseline="central" class="k">x(cell)</text><text transform="translate(194.4,68.4) rotate(-90) scale(1,1)" font-size="8.1" fill="#111" class="k" text-anchor="middle" dominant-baseline="central">y(cell)</text><rect x="337.3" y="12.9" width="3.4" height="109" fill="url(#cbg)"/><text transform="translate(346.9,112.3) scale(1,1.0)" font-size="8.4" fill="#111" text-anchor="middle" dominant-baseline="central" class="k">5</text><text transform="translate(346.9,101.16) scale(1,1.0)" font-size="8.4" fill="#111" text-anchor="middle" dominant-baseline="central" class="k">10</text><text transform="translate(346.9,90.03) scale(1,1.0)" font-size="8.4" fill="#111" text-anchor="middle" dominant-baseline="central" class="k">15</text><text transform="translate(346.9,78.89) scale(1,1.0)" font-size="8.4" fill="#111" text-anchor="middle" dominant-baseline="central" class="k">20</text><text transform="translate(346.9,67.75) scale(1,1.0)" font-size="8.4" fill="#111" text-anchor="middle" dominant-baseline="central" class="k">25</text><text transform="translate(346.9,56.61) scale(1,1.0)" font-size="8.4" fill="#111" text-anchor="middle" dominant-baseline="central" class="k">30</text><text transform="translate(346.9,45.48) scale(1,1.0)" font-size="8.4" fill="#111" text-anchor="middle" dominant-baseline="central" class="k">35</text><text transform="translate(346.9,34.34) scale(1,1.0)" font-size="8.4" fill="#111" text-anchor="middle" dominant-baseline="central" class="k">40</text><text transform="translate(346.9,23.2) scale(1,1.0)" font-size="8.4" fill="#111" text-anchor="middle" dominant-baseline="central" class="k">45</text><text transform="translate(345,9.4) scale(1,1)" font-size="8.2" fill="#111"><tspan font-size="6" x="-4" dy="-0.6">&#215;</tspan><tspan x="0" dy="0.6">10</tspan><tspan font-size="5.4" dx="0.6" dy="-3.6">-3</tspan></text><text x="236" y="160.3" font-size="12" fill="#000" stroke="#000" stroke-width="0.12" textLength="78.4" lengthAdjust="spacingAndGlyphs">(<tspan font-weight="bold">b</tspan>) scenario 2</text></g>
<g><rect x="397.4" y="14" width="122.1" height="107" fill="#3b26c2"/><rect x="419.16" y="80.66" width="3.07" height="2.69" fill="#3d2ecb"/><rect x="422.22" y="80.66" width="3.07" height="2.69" fill="#3f32cf"/><rect x="425.27" y="80.66" width="3.07" height="2.69" fill="#3f34d1"/><rect x="428.32" y="80.66" width="3.07" height="2.69" fill="#3f32cf"/><rect x="431.37" y="80.66" width="3.07" height="2.69" fill="#3d2ecb"/><rect x="413.06" y="83.34" width="3.07" height="2.69" fill="#3d2cc8"/><rect x="416.11" y="83.34" width="3.07" height="2.69" fill="#3f34d1"/><rect x="419.16" y="83.34" width="3.07" height="2.69" fill="#4240df"/><rect x="422.22" y="83.34" width="3.07" height="2.69" fill="#464bec"/><rect x="425.27" y="83.34" width="3.07" height="2.69" fill="#4750f2"/><rect x="428.32" y="83.34" width="3.07" height="2.69" fill="#464bec"/><rect x="431.37" y="83.34" width="3.07" height="2.69" fill="#4240df"/><rect x="434.43" y="83.34" width="3.07" height="2.69" fill="#3f34d1"/><rect x="437.48" y="83.34" width="3.07" height="2.69" fill="#3d2cc8"/><rect x="413.06" y="86.01" width="3.07" height="2.69" fill="#3f34d1"/><rect x="416.11" y="86.01" width="3.07" height="2.69" fill="#4447e7"/><rect x="419.16" y="86.01" width="3.07" height="2.69" fill="#3e66f5"/><rect x="422.22" y="86.01" width="3.07" height="2.69" fill="#2d87f7"/><rect x="425.27" y="86.01" width="3.07" height="2.69" fill="#2692ee"/><rect x="428.32" y="86.01" width="3.07" height="2.69" fill="#2d87f7"/><rect x="431.37" y="86.01" width="3.07" height="2.69" fill="#3e66f5"/><rect x="434.43" y="86.01" width="3.07" height="2.69" fill="#4447e7"/><rect x="437.48" y="86.01" width="3.07" height="2.69" fill="#3f34d1"/><rect x="410.01" y="88.69" width="3.07" height="2.69" fill="#3d2ecb"/><rect x="413.06" y="88.69" width="3.07" height="2.69" fill="#4240df"/><rect x="416.11" y="88.69" width="3.07" height="2.69" fill="#3e66f5"/><rect x="419.16" y="88.69" width="3.07" height="2.69" fill="#1d9fe4"/><rect x="422.22" y="88.69" width="3.07" height="2.69" fill="#2ec2a7"/><rect x="425.27" y="88.69" width="3.07" height="2.69" fill="#54c880"/><rect x="428.32" y="88.69" width="3.07" height="2.69" fill="#2ec2a7"/><rect x="431.37" y="88.69" width="3.07" height="2.69" fill="#1d9fe4"/><rect x="434.43" y="88.69" width="3.07" height="2.69" fill="#3e67f5"/><rect x="437.48" y="88.69" width="3.07" height="2.69" fill="#4240df"/><rect x="440.53" y="88.69" width="3.07" height="2.69" fill="#3e2fcc"/><rect x="410.01" y="91.36" width="3.07" height="2.7" fill="#3f32cf"/><rect x="413.06" y="91.36" width="3.07" height="2.7" fill="#464bec"/><rect x="416.11" y="91.36" width="3.07" height="2.7" fill="#2d87f7"/><rect x="419.16" y="91.36" width="3.07" height="2.7" fill="#2ec2a7"/><rect x="422.22" y="91.36" width="3.07" height="2.7" fill="#d1c538"/><rect x="425.27" y="91.36" width="3.07" height="2.7" fill="#fdcd32"/><rect x="428.32" y="91.36" width="3.07" height="2.7" fill="#d2c538"/><rect x="431.37" y="91.36" width="3.07" height="2.7" fill="#2ec3a6"/><rect x="434.43" y="91.36" width="3.07" height="2.7" fill="#2c89f5"/><rect x="437.48" y="91.36" width="3.07" height="2.7" fill="#464eef"/><rect x="440.53" y="91.36" width="3.07" height="2.7" fill="#3f35d3"/><rect x="443.58" y="91.36" width="3.07" height="2.7" fill="#3d2cc8"/><rect x="410.01" y="94.04" width="3.07" height="2.69" fill="#3f34d1"/><rect x="413.06" y="94.04" width="3.07" height="2.69" fill="#4750f2"/><rect x="416.11" y="94.04" width="3.07" height="2.69" fill="#2692ee"/><rect x="419.16" y="94.04" width="3.07" height="2.69" fill="#54c880"/><rect x="422.22" y="94.04" width="3.07" height="2.69" fill="#fdcd32"/><rect x="425.27" y="94.04" width="3.07" height="2.69" fill="#f9fb15"/><rect x="428.32" y="94.04" width="3.07" height="2.69" fill="#fdcf30"/><rect x="431.37" y="94.04" width="3.07" height="2.69" fill="#5ec877"/><rect x="434.43" y="94.04" width="3.07" height="2.69" fill="#219ae8"/><rect x="437.48" y="94.04" width="3.07" height="2.69" fill="#435cf5"/><rect x="440.53" y="94.04" width="3.07" height="2.69" fill="#4240df"/><rect x="443.58" y="94.04" width="3.07" height="2.69" fill="#3f34d2"/><rect x="446.64" y="94.04" width="3.07" height="2.69" fill="#3d2ecb"/><rect x="410.01" y="96.71" width="3.07" height="2.69" fill="#3f32cf"/><rect x="413.06" y="96.71" width="3.07" height="2.69" fill="#464bec"/><rect x="416.11" y="96.71" width="3.07" height="2.69" fill="#2d87f7"/><rect x="419.16" y="96.71" width="3.07" height="2.69" fill="#2ec2a7"/><rect x="422.22" y="96.71" width="3.07" height="2.69" fill="#d2c538"/><rect x="425.27" y="96.71" width="3.07" height="2.69" fill="#fdcf30"/><rect x="428.32" y="96.71" width="3.07" height="2.69" fill="#dac538"/><rect x="431.37" y="96.71" width="3.07" height="2.69" fill="#3ac895"/><rect x="434.43" y="96.71" width="3.07" height="2.69" fill="#1f9de6"/><rect x="437.48" y="96.71" width="3.07" height="2.69" fill="#3871f6"/><rect x="440.53" y="96.71" width="3.07" height="2.69" fill="#4459f5"/><rect x="443.58" y="96.71" width="3.07" height="2.69" fill="#454aeb"/><rect x="446.64" y="96.71" width="3.07" height="2.69" fill="#423edd"/><rect x="449.69" y="96.71" width="3.07" height="2.69" fill="#3f33d0"/><rect x="452.74" y="96.71" width="3.07" height="2.69" fill="#3d2bc8"/><rect x="410.01" y="99.39" width="3.07" height="2.69" fill="#3d2ecb"/><rect x="413.06" y="99.39" width="3.07" height="2.69" fill="#4240df"/><rect x="416.11" y="99.39" width="3.07" height="2.69" fill="#3e66f5"/><rect x="419.16" y="99.39" width="3.07" height="2.69" fill="#1d9fe4"/><rect x="422.22" y="99.39" width="3.07" height="2.69" fill="#2ec3a6"/><rect x="425.27" y="99.39" width="3.07" height="2.69" fill="#5ec877"/><rect x="428.32" y="99.39" width="3.07" height="2.69" fill="#3ac895"/><rect x="431.37" y="99.39" width="3.07" height="2.69" fill="#1bb7c7"/><rect x="434.43" y="99.39" width="3.07" height="2.69" fill="#1ca1e3"/><rect x="437.48" y="99.39" width="3.07" height="2.69" fill="#2397ea"/><rect x="440.53" y="99.39" width="3.07" height="2.69" fill="#2791ef"/><rect x="443.58" y="99.39" width="3.07" height="2.69" fill="#317ff7"/><rect x="446.64" y="99.39" width="3.07" height="2.69" fill="#415ff5"/><rect x="449.69" y="99.39" width="3.07" height="2.69" fill="#4344e3"/><rect x="452.74" y="99.39" width="3.07" height="2.69" fill="#3f32d0"/><rect x="413.06" y="102.06" width="3.07" height="2.69" fill="#3f34d1"/><rect x="416.11" y="102.06" width="3.07" height="2.69" fill="#4447e7"/><rect x="419.16" y="102.06" width="3.07" height="2.69" fill="#3e67f5"/><rect x="422.22" y="102.06" width="3.07" height="2.69" fill="#2c89f5"/><rect x="425.27" y="102.06" width="3.07" height="2.69" fill="#219ae8"/><rect x="428.32" y="102.06" width="3.07" height="2.69" fill="#1f9de6"/><rect x="431.37" y="102.06" width="3.07" height="2.69" fill="#1ca1e3"/><rect x="434.43" y="102.06" width="3.07" height="2.69" fill="#14b2d3"/><rect x="437.48" y="102.06" width="3.07" height="2.69" fill="#2bc1ab"/><rect x="440.53" y="102.06" width="3.07" height="2.69" fill="#34c69c"/><rect x="443.58" y="102.06" width="3.07" height="2.69" fill="#20babd"/><rect x="446.64" y="102.06" width="3.07" height="2.69" fill="#2595ec"/><rect x="449.69" y="102.06" width="3.07" height="2.69" fill="#415ff5"/><rect x="452.74" y="102.06" width="3.07" height="2.69" fill="#423ddc"/><rect x="455.79" y="102.06" width="3.07" height="2.69" fill="#3d2eca"/><rect x="413.06" y="104.74" width="3.07" height="2.7" fill="#3d2cc8"/><rect x="416.11" y="104.74" width="3.07" height="2.7" fill="#3f34d1"/><rect x="419.16" y="104.74" width="3.07" height="2.7" fill="#4240df"/><rect x="422.22" y="104.74" width="3.07" height="2.7" fill="#464eef"/><rect x="425.27" y="104.74" width="3.07" height="2.7" fill="#435cf5"/><rect x="428.32" y="104.74" width="3.07" height="2.7" fill="#3871f6"/><rect x="431.37" y="104.74" width="3.07" height="2.7" fill="#2397ea"/><rect x="434.43" y="104.74" width="3.07" height="2.7" fill="#2bc1ab"/><rect x="437.48" y="104.74" width="3.07" height="2.7" fill="#aec739"/><rect x="440.53" y="104.74" width="3.07" height="2.7" fill="#ddc538"/><rect x="443.58" y="104.74" width="3.07" height="2.7" fill="#a2c741"/><rect x="446.64" y="104.74" width="3.07" height="2.7" fill="#20babe"/><rect x="449.69" y="104.74" width="3.07" height="2.7" fill="#337df6"/><rect x="452.74" y="104.74" width="3.07" height="2.7" fill="#4547e8"/><rect x="455.79" y="104.74" width="3.07" height="2.7" fill="#3e31ce"/><rect x="419.16" y="107.41" width="3.07" height="2.69" fill="#3e2fcc"/><rect x="422.22" y="107.41" width="3.07" height="2.69" fill="#3f35d3"/><rect x="425.27" y="107.41" width="3.07" height="2.69" fill="#4240df"/><rect x="428.32" y="107.41" width="3.07" height="2.69" fill="#4459f5"/><rect x="431.37" y="107.41" width="3.07" height="2.69" fill="#2791ef"/><rect x="434.43" y="107.41" width="3.07" height="2.69" fill="#34c69c"/><rect x="437.48" y="107.41" width="3.07" height="2.69" fill="#ddc538"/><rect x="440.53" y="107.41" width="3.07" height="2.69" fill="#fdd52d"/><rect x="443.58" y="107.41" width="3.07" height="2.69" fill="#dac538"/><rect x="446.64" y="107.41" width="3.07" height="2.69" fill="#30c4a2"/><rect x="449.69" y="107.41" width="3.07" height="2.69" fill="#2c89f5"/><rect x="452.74" y="107.41" width="3.07" height="2.69" fill="#464ced"/><rect x="455.79" y="107.41" width="3.07" height="2.69" fill="#3f32d0"/><rect x="422.22" y="110.09" width="3.07" height="2.69" fill="#3d2cc8"/><rect x="425.27" y="110.09" width="3.07" height="2.69" fill="#3f34d2"/><rect x="428.32" y="110.09" width="3.07" height="2.69" fill="#454aeb"/><rect x="431.37" y="110.09" width="3.07" height="2.69" fill="#317ff7"/><rect x="434.43" y="110.09" width="3.07" height="2.69" fill="#20babd"/><rect x="437.48" y="110.09" width="3.07" height="2.69" fill="#a2c741"/><rect x="440.53" y="110.09" width="3.07" height="2.69" fill="#dac538"/><rect x="443.58" y="110.09" width="3.07" height="2.69" fill="#a1c742"/><rect x="446.64" y="110.09" width="3.07" height="2.69" fill="#20babf"/><rect x="449.69" y="110.09" width="3.07" height="2.69" fill="#337df6"/><rect x="452.74" y="110.09" width="3.07" height="2.69" fill="#4547e8"/><rect x="455.79" y="110.09" width="3.07" height="2.69" fill="#3e31ce"/><rect x="425.27" y="112.76" width="3.07" height="2.69" fill="#3d2ecb"/><rect x="428.32" y="112.76" width="3.07" height="2.69" fill="#423edd"/><rect x="431.37" y="112.76" width="3.07" height="2.69" fill="#415ff5"/><rect x="434.43" y="112.76" width="3.07" height="2.69" fill="#2595ec"/><rect x="437.48" y="112.76" width="3.07" height="2.69" fill="#20babe"/><rect x="440.53" y="112.76" width="3.07" height="2.69" fill="#30c4a2"/><rect x="443.58" y="112.76" width="3.07" height="2.69" fill="#20babf"/><rect x="446.64" y="112.76" width="3.07" height="2.69" fill="#2594ec"/><rect x="449.69" y="112.76" width="3.07" height="2.69" fill="#415ff5"/><rect x="452.74" y="112.76" width="3.07" height="2.69" fill="#423ddc"/><rect x="455.79" y="112.76" width="3.07" height="2.69" fill="#3d2eca"/><rect x="428.32" y="115.44" width="3.07" height="2.69" fill="#3f33d0"/><rect x="431.37" y="115.44" width="3.07" height="2.69" fill="#4344e3"/><rect x="434.43" y="115.44" width="3.07" height="2.69" fill="#415ff5"/><rect x="437.48" y="115.44" width="3.07" height="2.69" fill="#337df6"/><rect x="440.53" y="115.44" width="3.07" height="2.69" fill="#2c89f5"/><rect x="443.58" y="115.44" width="3.07" height="2.69" fill="#337df6"/><rect x="446.64" y="115.44" width="3.07" height="2.69" fill="#415ff5"/><rect x="449.69" y="115.44" width="3.07" height="2.69" fill="#4344e3"/><rect x="452.74" y="115.44" width="3.07" height="2.69" fill="#3f32d0"/><rect x="428.32" y="118.11" width="3.07" height="2.7" fill="#3d2bc8"/><rect x="431.37" y="118.11" width="3.07" height="2.7" fill="#3f32d0"/><rect x="434.43" y="118.11" width="3.07" height="2.7" fill="#423ddc"/><rect x="437.48" y="118.11" width="3.07" height="2.7" fill="#4547e8"/><rect x="440.53" y="118.11" width="3.07" height="2.7" fill="#464ced"/><rect x="443.58" y="118.11" width="3.07" height="2.7" fill="#4547e8"/><rect x="446.64" y="118.11" width="3.07" height="2.7" fill="#423ddc"/><rect x="449.69" y="118.11" width="3.07" height="2.7" fill="#3f32d0"/><rect x="452.74" y="118.11" width="3.07" height="2.7" fill="#3d2bc8"/><rect x="434.43" y="120.79" width="3.07" height="0.21" fill="#3d2eca"/><rect x="437.48" y="120.79" width="3.07" height="0.21" fill="#3e31ce"/><rect x="440.53" y="120.79" width="3.07" height="0.21" fill="#3f32d0"/><rect x="443.58" y="120.79" width="3.07" height="0.21" fill="#3e31ce"/><rect x="446.64" y="120.79" width="3.07" height="0.21" fill="#3d2eca"/><path d="M397.8,14V121M400.85,14V121M403.9,14V121M406.95,14V121M410.01,14V121M413.06,14V121M416.11,14V121M419.16,14V121M422.22,14V121M425.27,14V121M428.32,14V121M431.37,14V121M434.43,14V121M437.48,14V121M440.53,14V121M443.58,14V121M446.64,14V121M449.69,14V121M452.74,14V121M455.79,14V121M458.85,14V121M461.9,14V121M464.95,14V121M468,14V121M471.06,14V121M474.11,14V121M477.16,14V121M480.21,14V121M483.27,14V121M486.32,14V121M489.37,14V121M492.42,14V121M495.48,14V121M498.53,14V121M501.58,14V121M504.63,14V121M507.69,14V121M510.74,14V121M513.79,14V121M516.84,14V121M397.4,16.46H519.5M397.4,19.14H519.5M397.4,21.81H519.5M397.4,24.49H519.5M397.4,27.16H519.5M397.4,29.84H519.5M397.4,32.51H519.5M397.4,35.19H519.5M397.4,37.86H519.5M397.4,40.54H519.5M397.4,43.21H519.5M397.4,45.89H519.5M397.4,48.56H519.5M397.4,51.24H519.5M397.4,53.91H519.5M397.4,56.59H519.5M397.4,59.26H519.5M397.4,61.94H519.5M397.4,64.61H519.5M397.4,67.29H519.5M397.4,69.96H519.5M397.4,72.64H519.5M397.4,75.31H519.5M397.4,77.99H519.5M397.4,80.66H519.5M397.4,83.34H519.5M397.4,86.01H519.5M397.4,88.69H519.5M397.4,91.36H519.5M397.4,94.04H519.5M397.4,96.71H519.5M397.4,99.39H519.5M397.4,102.06H519.5M397.4,104.74H519.5M397.4,107.41H519.5M397.4,110.09H519.5M397.4,112.76H519.5M397.4,115.44H519.5M397.4,118.11H519.5" stroke="#000" stroke-opacity="0.2" stroke-width="0.8" fill="none"/><circle cx="411.7" cy="109" r="1.4" fill="#ff1010"/><circle cx="458.4" cy="67.8" r="1.4" fill="#ff1010"/><line x1="482.8" y1="42.5" x2="482.8" y2="24.8" stroke="#f3801a" stroke-width="1.5"/><polygon points="482.8,21.1 484.9,25.3 480.7,25.3" fill="#f3801a"/><line x1="482.8" y1="42.5" x2="496.82" y2="30.24" stroke="#f3801a" stroke-width="1.5"/><polygon points="499.6,27.8 497.82,32.15 495.06,28.99" fill="#f3801a"/><line x1="482.8" y1="42.5" x2="502.6" y2="42.5" stroke="#f3801a" stroke-width="1.5"/><polygon points="506.3,42.5 502.1,44.6 502.1,40.4" fill="#f3801a"/><line x1="482.8" y1="42.5" x2="496.84" y2="55.04" stroke="#f3801a" stroke-width="1.5"/><polygon points="499.6,57.5 495.07,56.27 497.87,53.14" fill="#f3801a"/><line x1="482.8" y1="42.5" x2="482.8" y2="59.6" stroke="#f3801a" stroke-width="1.5"/><polygon points="482.8,63.3 480.7,59.1 484.9,59.1" fill="#f3801a"/><line x1="482.8" y1="42.5" x2="468.76" y2="55.04" stroke="#f3801a" stroke-width="1.5"/><polygon points="466,57.5 467.73,53.14 470.53,56.27" fill="#f3801a"/><line x1="482.8" y1="42.5" x2="463.2" y2="42.5" stroke="#f3801a" stroke-width="1.5"/><polygon points="459.5,42.5 463.7,40.4 463.7,44.6" fill="#f3801a"/><line x1="482.8" y1="42.5" x2="468.78" y2="30.24" stroke="#f3801a" stroke-width="1.5"/><polygon points="466,27.8 470.54,28.99 467.78,32.15" fill="#f3801a"/><text transform="translate(482.8,18.7) scale(1,1.0)" font-size="7.4" font-weight="bold" fill="#fff" text-anchor="middle" dominant-baseline="central">0.1</text><text transform="translate(501.7,24.4) scale(1,1.0)" font-size="7.4" font-weight="bold" fill="#fff" text-anchor="middle" dominant-baseline="central">0.3</text><text transform="translate(511.75,42.9) scale(1,1.0)" font-size="7.4" font-weight="bold" fill="#fff" text-anchor="middle" dominant-baseline="central">0.5</text><text transform="translate(501.7,60.7) scale(1,1.0)" font-size="7.4" font-weight="bold" fill="#fff" text-anchor="middle" dominant-baseline="central">0.1</text><text transform="translate(482.8,68.4) scale(1,1.0)" font-size="7.4" font-weight="bold" fill="#fff" text-anchor="middle" dominant-baseline="central">0</text><text transform="translate(463.7,60.7) scale(1,1.0)" font-size="7.4" font-weight="bold" fill="#fff" text-anchor="middle" dominant-baseline="central">0</text><text transform="translate(456.7,43.2) scale(1,1.0)" font-size="7.4" font-weight="bold" fill="#fff" text-anchor="middle" dominant-baseline="central">0</text><text transform="translate(463.7,24.4) scale(1,1.0)" font-size="7.4" font-weight="bold" fill="#fff" text-anchor="middle" dominant-baseline="central">0</text><text transform="translate(482.8,42.9) scale(1,1.0)" font-size="7.4" font-weight="bold" fill="#fff" text-anchor="middle" dominant-baseline="central">0</text><text transform="translate(391.6,13.4) scale(1,1.0)" font-size="8.4" fill="#111" text-anchor="middle" dominant-baseline="central" class="k">40</text><text transform="translate(391.6,27.43) scale(1,1.0)" font-size="8.4" fill="#111" text-anchor="middle" dominant-baseline="central" class="k">35</text><text transform="translate(391.6,41.46) scale(1,1.0)" font-size="8.4" fill="#111" text-anchor="middle" dominant-baseline="central" class="k">30</text><text transform="translate(391.6,55.49) scale(1,1.0)" font-size="8.4" fill="#111" text-anchor="middle" dominant-baseline="central" class="k">25</text><text transform="translate(391.6,69.51) scale(1,1.0)" font-size="8.4" fill="#111" text-anchor="middle" dominant-baseline="central" class="k">20</text><text transform="translate(391.6,83.54) scale(1,1.0)" font-size="8.4" fill="#111" text-anchor="middle" dominant-baseline="central" class="k">15</text><text transform="translate(391.6,97.57) scale(1,1.0)" font-size="8.4" fill="#111" text-anchor="middle" dominant-baseline="central" class="k">10</text><text transform="translate(391.6,111.6) scale(1,1.0)" font-size="8.4" fill="#111" text-anchor="middle" dominant-baseline="central" class="k">5</text><text transform="translate(410.7,128.5) scale(1,1.0)" font-size="8.4" fill="#111" text-anchor="middle" dominant-baseline="central" class="k">5</text><text transform="translate(426.16,128.5) scale(1,1.0)" font-size="8.4" fill="#111" text-anchor="middle" dominant-baseline="central" class="k">10</text><text transform="translate(441.61,128.5) scale(1,1.0)" font-size="8.4" fill="#111" text-anchor="middle" dominant-baseline="central" class="k">15</text><text transform="translate(457.07,128.5) scale(1,1.0)" font-size="8.4" fill="#111" text-anchor="middle" dominant-baseline="central" class="k">20</text><text transform="translate(472.53,128.5) scale(1,1.0)" font-size="8.4" fill="#111" text-anchor="middle" dominant-baseline="central" class="k">25</text><text transform="translate(487.99,128.5) scale(1,1.0)" font-size="8.4" fill="#111" text-anchor="middle" dominant-baseline="central" class="k">30</text><text transform="translate(503.44,128.5) scale(1,1.0)" font-size="8.4" fill="#111" text-anchor="middle" dominant-baseline="central" class="k">35</text><text transform="translate(518.9,128.5) scale(1,1.0)" font-size="8.4" fill="#111" text-anchor="middle" dominant-baseline="central" class="k">40</text><text transform="translate(459.7,135.8) scale(1,1.0)" font-size="8.4" fill="#111" text-anchor="middle" dominant-baseline="central" class="k">x(cell)</text><text transform="translate(382.6,69.3) rotate(-90) scale(1,1)" font-size="8.1" fill="#111" class="k" text-anchor="middle" dominant-baseline="central">y(cell)</text><rect x="525.1" y="14" width="3.5" height="107" fill="url(#cbg)"/><text transform="translate(534.25,111.4) scale(1,1.0)" font-size="8.4" fill="#111" text-anchor="middle" dominant-baseline="central" class="k">5</text><text transform="translate(534.25,100.51) scale(1,1.0)" font-size="8.4" fill="#111" text-anchor="middle" dominant-baseline="central" class="k">10</text><text transform="translate(534.25,89.62) scale(1,1.0)" font-size="8.4" fill="#111" text-anchor="middle" dominant-baseline="central" class="k">15</text><text transform="translate(534.25,78.74) scale(1,1.0)" font-size="8.4" fill="#111" text-anchor="middle" dominant-baseline="central" class="k">20</text><text transform="translate(534.25,67.85) scale(1,1.0)" font-size="8.4" fill="#111" text-anchor="middle" dominant-baseline="central" class="k">25</text><text transform="translate(534.25,56.96) scale(1,1.0)" font-size="8.4" fill="#111" text-anchor="middle" dominant-baseline="central" class="k">30</text><text transform="translate(534.25,46.08) scale(1,1.0)" font-size="8.4" fill="#111" text-anchor="middle" dominant-baseline="central" class="k">35</text><text transform="translate(534.25,35.19) scale(1,1.0)" font-size="8.4" fill="#111" text-anchor="middle" dominant-baseline="central" class="k">40</text><text transform="translate(534.25,24.3) scale(1,1.0)" font-size="8.4" fill="#111" text-anchor="middle" dominant-baseline="central" class="k">45</text><text transform="translate(533.4,13.1) scale(1,1)" font-size="8.2" fill="#111"><tspan font-size="6" x="-4" dy="-0.6">&#215;</tspan><tspan x="0" dy="0.6">10</tspan><tspan font-size="5.4" dx="0.6" dy="-3.6">-3</tspan></text><text x="425.6" y="160.3" font-size="12" fill="#000" stroke="#000" stroke-width="0.12" textLength="76.4" lengthAdjust="spacingAndGlyphs">(<tspan font-weight="bold">c</tspan>) scenario 3</text></g>
<g><rect x="22.25" y="179" width="122" height="107" fill="#3b26c2"/><rect x="75.53" y="189.86" width="3.07" height="2.7" fill="#3d2cc8"/><rect x="78.58" y="189.86" width="3.07" height="2.7" fill="#3e2fcb"/><rect x="81.63" y="189.86" width="3.07" height="2.7" fill="#3e30cd"/><rect x="84.68" y="189.86" width="3.07" height="2.7" fill="#3e2fcb"/><rect x="87.73" y="189.86" width="3.07" height="2.7" fill="#3d2cc8"/><rect x="72.48" y="192.54" width="3.07" height="2.7" fill="#3e30cd"/><rect x="75.53" y="192.54" width="3.07" height="2.7" fill="#413ad8"/><rect x="78.58" y="192.54" width="3.07" height="2.7" fill="#4344e3"/><rect x="81.63" y="192.54" width="3.07" height="2.7" fill="#4548e8"/><rect x="84.68" y="192.54" width="3.07" height="2.7" fill="#4344e3"/><rect x="87.73" y="192.54" width="3.07" height="2.7" fill="#413ad8"/><rect x="90.78" y="192.54" width="3.07" height="2.7" fill="#3e30cd"/><rect x="69.43" y="195.21" width="3.07" height="2.69" fill="#3e30cd"/><rect x="72.48" y="195.21" width="3.07" height="2.69" fill="#4240df"/><rect x="75.53" y="195.21" width="3.07" height="2.69" fill="#445bf5"/><rect x="78.58" y="195.21" width="3.07" height="2.69" fill="#347af6"/><rect x="81.63" y="195.21" width="3.07" height="2.69" fill="#2d87f6"/><rect x="84.68" y="195.21" width="3.07" height="2.69" fill="#347af6"/><rect x="87.73" y="195.21" width="3.07" height="2.69" fill="#445bf5"/><rect x="90.78" y="195.21" width="3.07" height="2.69" fill="#4240df"/><rect x="93.83" y="195.21" width="3.07" height="2.69" fill="#3e30cd"/><rect x="66.38" y="197.89" width="3.07" height="2.7" fill="#3d2cc8"/><rect x="69.43" y="197.89" width="3.07" height="2.7" fill="#413ad8"/><rect x="72.48" y="197.89" width="3.07" height="2.7" fill="#445bf5"/><rect x="75.53" y="197.89" width="3.07" height="2.7" fill="#2594ed"/><rect x="78.58" y="197.89" width="3.07" height="2.7" fill="#24bdb6"/><rect x="81.63" y="197.89" width="3.07" height="2.7" fill="#3ac895"/><rect x="84.68" y="197.89" width="3.07" height="2.7" fill="#24bdb6"/><rect x="87.73" y="197.89" width="3.07" height="2.7" fill="#2594ed"/><rect x="90.78" y="197.89" width="3.07" height="2.7" fill="#445bf5"/><rect x="93.83" y="197.89" width="3.07" height="2.7" fill="#413ad8"/><rect x="96.88" y="197.89" width="3.07" height="2.7" fill="#3d2cc8"/><rect x="66.38" y="200.56" width="3.07" height="2.69" fill="#3e2fcb"/><rect x="69.43" y="200.56" width="3.07" height="2.69" fill="#4344e3"/><rect x="72.48" y="200.56" width="3.07" height="2.69" fill="#347af6"/><rect x="75.53" y="200.56" width="3.07" height="2.69" fill="#24bdb6"/><rect x="78.58" y="200.56" width="3.07" height="2.69" fill="#c5c639"/><rect x="81.63" y="200.56" width="3.07" height="2.69" fill="#fec935"/><rect x="84.68" y="200.56" width="3.07" height="2.69" fill="#c5c639"/><rect x="87.73" y="200.56" width="3.07" height="2.69" fill="#24bdb6"/><rect x="90.78" y="200.56" width="3.07" height="2.69" fill="#347af6"/><rect x="93.83" y="200.56" width="3.07" height="2.69" fill="#4344e3"/><rect x="96.88" y="200.56" width="3.07" height="2.69" fill="#3e2fcb"/><rect x="66.38" y="203.24" width="3.07" height="2.7" fill="#3e30cd"/><rect x="69.43" y="203.24" width="3.07" height="2.7" fill="#4548e8"/><rect x="72.48" y="203.24" width="3.07" height="2.7" fill="#2d87f6"/><rect x="75.53" y="203.24" width="3.07" height="2.7" fill="#3ac895"/><rect x="78.58" y="203.24" width="3.07" height="2.7" fill="#fec935"/><rect x="81.63" y="203.24" width="3.07" height="2.7" fill="#f9fb15"/><rect x="84.68" y="203.24" width="3.07" height="2.7" fill="#fec935"/><rect x="87.73" y="203.24" width="3.07" height="2.7" fill="#3ac895"/><rect x="90.78" y="203.24" width="3.07" height="2.7" fill="#2d87f6"/><rect x="93.83" y="203.24" width="3.07" height="2.7" fill="#4548e8"/><rect x="96.88" y="203.24" width="3.07" height="2.7" fill="#3e30cd"/><rect x="66.38" y="205.91" width="3.07" height="2.7" fill="#3e2fcb"/><rect x="69.43" y="205.91" width="3.07" height="2.7" fill="#4344e3"/><rect x="72.48" y="205.91" width="3.07" height="2.7" fill="#347af6"/><rect x="75.53" y="205.91" width="3.07" height="2.7" fill="#24bdb6"/><rect x="78.58" y="205.91" width="3.07" height="2.7" fill="#c5c639"/><rect x="81.63" y="205.91" width="3.07" height="2.7" fill="#fec935"/><rect x="84.68" y="205.91" width="3.07" height="2.7" fill="#c5c639"/><rect x="87.73" y="205.91" width="3.07" height="2.7" fill="#24bdb6"/><rect x="90.78" y="205.91" width="3.07" height="2.7" fill="#347af6"/><rect x="93.83" y="205.91" width="3.07" height="2.7" fill="#4344e3"/><rect x="96.88" y="205.91" width="3.07" height="2.7" fill="#3e2fcb"/><rect x="66.38" y="208.59" width="3.07" height="2.69" fill="#3d2cc8"/><rect x="69.43" y="208.59" width="3.07" height="2.69" fill="#413ad8"/><rect x="72.48" y="208.59" width="3.07" height="2.69" fill="#445bf5"/><rect x="75.53" y="208.59" width="3.07" height="2.69" fill="#2594ed"/><rect x="78.58" y="208.59" width="3.07" height="2.69" fill="#24bdb6"/><rect x="81.63" y="208.59" width="3.07" height="2.69" fill="#3ac895"/><rect x="84.68" y="208.59" width="3.07" height="2.69" fill="#24bdb6"/><rect x="87.73" y="208.59" width="3.07" height="2.69" fill="#2594ed"/><rect x="90.78" y="208.59" width="3.07" height="2.69" fill="#445bf5"/><rect x="93.83" y="208.59" width="3.07" height="2.69" fill="#413ad8"/><rect x="96.88" y="208.59" width="3.07" height="2.69" fill="#3d2cc8"/><rect x="69.43" y="211.26" width="3.07" height="2.7" fill="#3e30cd"/><rect x="72.48" y="211.26" width="3.07" height="2.7" fill="#4240df"/><rect x="75.53" y="211.26" width="3.07" height="2.7" fill="#445bf5"/><rect x="78.58" y="211.26" width="3.07" height="2.7" fill="#347af6"/><rect x="81.63" y="211.26" width="3.07" height="2.7" fill="#2d87f6"/><rect x="84.68" y="211.26" width="3.07" height="2.7" fill="#347af6"/><rect x="87.73" y="211.26" width="3.07" height="2.7" fill="#445bf5"/><rect x="90.78" y="211.26" width="3.07" height="2.7" fill="#4240df"/><rect x="93.83" y="211.26" width="3.07" height="2.7" fill="#3e30cd"/><rect x="72.48" y="213.94" width="3.07" height="2.69" fill="#3e30cd"/><rect x="75.53" y="213.94" width="3.07" height="2.69" fill="#413ad8"/><rect x="78.58" y="213.94" width="3.07" height="2.69" fill="#4344e3"/><rect x="81.63" y="213.94" width="3.07" height="2.69" fill="#4548e8"/><rect x="84.68" y="213.94" width="3.07" height="2.69" fill="#4344e3"/><rect x="87.73" y="213.94" width="3.07" height="2.69" fill="#413ad8"/><rect x="90.78" y="213.94" width="3.07" height="2.69" fill="#3e30cd"/><rect x="75.53" y="216.61" width="3.07" height="2.7" fill="#3d2cc8"/><rect x="78.58" y="216.61" width="3.07" height="2.7" fill="#3e2fcb"/><rect x="81.63" y="216.61" width="3.07" height="2.7" fill="#3e30cd"/><rect x="84.68" y="216.61" width="3.07" height="2.7" fill="#3e2fcb"/><rect x="87.73" y="216.61" width="3.07" height="2.7" fill="#3d2cc8"/><rect x="72.48" y="246.04" width="3.07" height="2.7" fill="#3d2cc8"/><rect x="75.53" y="246.04" width="3.07" height="2.7" fill="#3e30cd"/><rect x="78.58" y="246.04" width="3.07" height="2.7" fill="#3f34d2"/><rect x="81.63" y="246.04" width="3.07" height="2.7" fill="#4036d4"/><rect x="84.68" y="246.04" width="3.07" height="2.7" fill="#3f34d2"/><rect x="87.73" y="246.04" width="3.07" height="2.7" fill="#3e30cd"/><rect x="90.78" y="246.04" width="3.07" height="2.7" fill="#3d2cc8"/><rect x="69.43" y="248.71" width="3.07" height="2.69" fill="#3d2dca"/><rect x="72.48" y="248.71" width="3.07" height="2.69" fill="#4036d4"/><rect x="75.53" y="248.71" width="3.07" height="2.69" fill="#4342e2"/><rect x="78.58" y="248.71" width="3.07" height="2.69" fill="#464def"/><rect x="81.63" y="248.71" width="3.07" height="2.69" fill="#4852f4"/><rect x="84.68" y="248.71" width="3.07" height="2.69" fill="#464def"/><rect x="87.73" y="248.71" width="3.07" height="2.69" fill="#4342e2"/><rect x="90.78" y="248.71" width="3.07" height="2.69" fill="#4036d4"/><rect x="93.83" y="248.71" width="3.07" height="2.69" fill="#3d2dca"/><rect x="66.38" y="251.39" width="3.07" height="2.69" fill="#3d2cc8"/><rect x="69.43" y="251.39" width="3.07" height="2.69" fill="#4036d4"/><rect x="72.48" y="251.39" width="3.07" height="2.69" fill="#4549ea"/><rect x="75.53" y="251.39" width="3.07" height="2.69" fill="#3d67f5"/><rect x="78.58" y="251.39" width="3.07" height="2.69" fill="#2f85f7"/><rect x="81.63" y="251.39" width="3.07" height="2.69" fill="#288ff0"/><rect x="84.68" y="251.39" width="3.07" height="2.69" fill="#2f85f7"/><rect x="87.73" y="251.39" width="3.07" height="2.69" fill="#3d67f5"/><rect x="90.78" y="251.39" width="3.07" height="2.69" fill="#4549ea"/><rect x="93.83" y="251.39" width="3.07" height="2.69" fill="#4036d4"/><rect x="96.88" y="251.39" width="3.07" height="2.69" fill="#3d2cc8"/><rect x="66.38" y="254.06" width="3.07" height="2.69" fill="#3e30cd"/><rect x="69.43" y="254.06" width="3.07" height="2.69" fill="#4342e2"/><rect x="72.48" y="254.06" width="3.07" height="2.69" fill="#3d67f5"/><rect x="75.53" y="254.06" width="3.07" height="2.69" fill="#219ae8"/><rect x="78.58" y="254.06" width="3.07" height="2.69" fill="#23bcb9"/><rect x="81.63" y="254.06" width="3.07" height="2.69" fill="#32c59f"/><rect x="84.68" y="254.06" width="3.07" height="2.69" fill="#23bcb9"/><rect x="87.73" y="254.06" width="3.07" height="2.69" fill="#219ae8"/><rect x="90.78" y="254.06" width="3.07" height="2.69" fill="#3d67f5"/><rect x="93.83" y="254.06" width="3.07" height="2.69" fill="#4342e2"/><rect x="96.88" y="254.06" width="3.07" height="2.69" fill="#3e30cd"/><rect x="66.38" y="256.74" width="3.07" height="2.69" fill="#3f34d2"/><rect x="69.43" y="256.74" width="3.07" height="2.69" fill="#464def"/><rect x="72.48" y="256.74" width="3.07" height="2.69" fill="#2f85f7"/><rect x="75.53" y="256.74" width="3.07" height="2.69" fill="#23bcb9"/><rect x="78.58" y="256.74" width="3.07" height="2.69" fill="#9ac747"/><rect x="81.63" y="256.74" width="3.07" height="2.69" fill="#d0c538"/><rect x="84.68" y="256.74" width="3.07" height="2.69" fill="#9ac747"/><rect x="87.73" y="256.74" width="3.07" height="2.69" fill="#23bcb9"/><rect x="90.78" y="256.74" width="3.07" height="2.69" fill="#2f85f7"/><rect x="93.83" y="256.74" width="3.07" height="2.69" fill="#464def"/><rect x="96.88" y="256.74" width="3.07" height="2.69" fill="#3f34d2"/><rect x="66.38" y="259.41" width="3.07" height="2.69" fill="#4036d4"/><rect x="69.43" y="259.41" width="3.07" height="2.69" fill="#4852f4"/><rect x="72.48" y="259.41" width="3.07" height="2.69" fill="#288ff0"/><rect x="75.53" y="259.41" width="3.07" height="2.69" fill="#32c59f"/><rect x="78.58" y="259.41" width="3.07" height="2.69" fill="#d0c538"/><rect x="81.63" y="259.41" width="3.07" height="2.69" fill="#fec835"/><rect x="84.68" y="259.41" width="3.07" height="2.69" fill="#d0c538"/><rect x="87.73" y="259.41" width="3.07" height="2.69" fill="#32c59f"/><rect x="90.78" y="259.41" width="3.07" height="2.69" fill="#288ff0"/><rect x="93.83" y="259.41" width="3.07" height="2.69" fill="#4852f4"/><rect x="96.88" y="259.41" width="3.07" height="2.69" fill="#4036d4"/><rect x="66.38" y="262.09" width="3.07" height="2.69" fill="#3f34d2"/><rect x="69.43" y="262.09" width="3.07" height="2.69" fill="#464def"/><rect x="72.48" y="262.09" width="3.07" height="2.69" fill="#2f85f7"/><rect x="75.53" y="262.09" width="3.07" height="2.69" fill="#23bcb9"/><rect x="78.58" y="262.09" width="3.07" height="2.69" fill="#9ac747"/><rect x="81.63" y="262.09" width="3.07" height="2.69" fill="#d0c538"/><rect x="84.68" y="262.09" width="3.07" height="2.69" fill="#9ac747"/><rect x="87.73" y="262.09" width="3.07" height="2.69" fill="#23bcb9"/><rect x="90.78" y="262.09" width="3.07" height="2.69" fill="#2f85f7"/><rect x="93.83" y="262.09" width="3.07" height="2.69" fill="#464def"/><rect x="96.88" y="262.09" width="3.07" height="2.69" fill="#3f34d2"/><rect x="66.38" y="264.76" width="3.07" height="2.69" fill="#3e30cd"/><rect x="69.43" y="264.76" width="3.07" height="2.69" fill="#4342e2"/><rect x="72.48" y="264.76" width="3.07" height="2.69" fill="#3d67f5"/><rect x="75.53" y="264.76" width="3.07" height="2.69" fill="#219ae8"/><rect x="78.58" y="264.76" width="3.07" height="2.69" fill="#23bcb9"/><rect x="81.63" y="264.76" width="3.07" height="2.69" fill="#32c59f"/><rect x="84.68" y="264.76" width="3.07" height="2.69" fill="#23bcb9"/><rect x="87.73" y="264.76" width="3.07" height="2.69" fill="#219ae8"/><rect x="90.78" y="264.76" width="3.07" height="2.69" fill="#3d67f5"/><rect x="93.83" y="264.76" width="3.07" height="2.69" fill="#4342e2"/><rect x="96.88" y="264.76" width="3.07" height="2.69" fill="#3e30cd"/><rect x="66.38" y="267.44" width="3.07" height="2.69" fill="#3d2cc8"/><rect x="69.43" y="267.44" width="3.07" height="2.69" fill="#4036d4"/><rect x="72.48" y="267.44" width="3.07" height="2.69" fill="#4549ea"/><rect x="75.53" y="267.44" width="3.07" height="2.69" fill="#3d67f5"/><rect x="78.58" y="267.44" width="3.07" height="2.69" fill="#2f85f7"/><rect x="81.63" y="267.44" width="3.07" height="2.69" fill="#288ff0"/><rect x="84.68" y="267.44" width="3.07" height="2.69" fill="#2f85f7"/><rect x="87.73" y="267.44" width="3.07" height="2.69" fill="#3d67f5"/><rect x="90.78" y="267.44" width="3.07" height="2.69" fill="#4549ea"/><rect x="93.83" y="267.44" width="3.07" height="2.69" fill="#4036d4"/><rect x="96.88" y="267.44" width="3.07" height="2.69" fill="#3d2cc8"/><rect x="69.43" y="270.11" width="3.07" height="2.69" fill="#3d2dca"/><rect x="72.48" y="270.11" width="3.07" height="2.69" fill="#4036d4"/><rect x="75.53" y="270.11" width="3.07" height="2.69" fill="#4342e2"/><rect x="78.58" y="270.11" width="3.07" height="2.69" fill="#464def"/><rect x="81.63" y="270.11" width="3.07" height="2.69" fill="#4852f4"/><rect x="84.68" y="270.11" width="3.07" height="2.69" fill="#464def"/><rect x="87.73" y="270.11" width="3.07" height="2.69" fill="#4342e2"/><rect x="90.78" y="270.11" width="3.07" height="2.69" fill="#4036d4"/><rect x="93.83" y="270.11" width="3.07" height="2.69" fill="#3d2dca"/><rect x="72.48" y="272.79" width="3.07" height="2.69" fill="#3d2cc8"/><rect x="75.53" y="272.79" width="3.07" height="2.69" fill="#3e30cd"/><rect x="78.58" y="272.79" width="3.07" height="2.69" fill="#3f34d2"/><rect x="81.63" y="272.79" width="3.07" height="2.69" fill="#4036d4"/><rect x="84.68" y="272.79" width="3.07" height="2.69" fill="#3f34d2"/><rect x="87.73" y="272.79" width="3.07" height="2.69" fill="#3e30cd"/><rect x="90.78" y="272.79" width="3.07" height="2.69" fill="#3d2cc8"/><path d="M23.68,179V286M26.73,179V286M29.78,179V286M32.83,179V286M35.88,179V286M38.93,179V286M41.98,179V286M45.03,179V286M48.08,179V286M51.13,179V286M54.18,179V286M57.23,179V286M60.28,179V286M63.33,179V286M66.38,179V286M69.43,179V286M72.48,179V286M75.53,179V286M78.58,179V286M81.63,179V286M84.68,179V286M87.73,179V286M90.78,179V286M93.83,179V286M96.88,179V286M99.93,179V286M102.98,179V286M106.03,179V286M109.08,179V286M112.13,179V286M115.18,179V286M118.23,179V286M121.28,179V286M124.33,179V286M127.38,179V286M130.43,179V286M133.48,179V286M136.53,179V286M139.58,179V286M142.63,179V286M22.25,181.84H144.25M22.25,184.51H144.25M22.25,187.19H144.25M22.25,189.86H144.25M22.25,192.54H144.25M22.25,195.21H144.25M22.25,197.89H144.25M22.25,200.56H144.25M22.25,203.24H144.25M22.25,205.91H144.25M22.25,208.59H144.25M22.25,211.26H144.25M22.25,213.94H144.25M22.25,216.61H144.25M22.25,219.29H144.25M22.25,221.96H144.25M22.25,224.64H144.25M22.25,227.31H144.25M22.25,229.99H144.25M22.25,232.66H144.25M22.25,235.34H144.25M22.25,238.01H144.25M22.25,240.69H144.25M22.25,243.36H144.25M22.25,246.04H144.25M22.25,248.71H144.25M22.25,251.39H144.25M22.25,254.06H144.25M22.25,256.74H144.25M22.25,259.41H144.25M22.25,262.09H144.25M22.25,264.76H144.25M22.25,267.44H144.25M22.25,270.11H144.25M22.25,272.79H144.25M22.25,275.46H144.25M22.25,278.14H144.25M22.25,280.81H144.25M22.25,283.49H144.25" stroke="#000" stroke-opacity="0.2" stroke-width="0.8" fill="none"/><circle cx="83.4" cy="220.6" r="1.4" fill="#ff1010"/><circle cx="83.4" cy="232" r="1.4" fill="#ff1010"/><line x1="118.8" y1="204.7" x2="118.8" y2="188.9" stroke="#f3801a" stroke-width="1.5"/><polygon points="118.8,185.2 120.9,189.4 116.7,189.4" fill="#f3801a"/><line x1="118.8" y1="204.7" x2="131.46" y2="193.19" stroke="#f3801a" stroke-width="1.5"/><polygon points="134.2,190.7 132.5,195.08 129.68,191.97" fill="#f3801a"/><line x1="118.8" y1="204.7" x2="135.1" y2="204.7" stroke="#f3801a" stroke-width="1.5"/><polygon points="138.8,204.7 134.6,206.8 134.6,202.6" fill="#f3801a"/><line x1="118.8" y1="204.7" x2="131.03" y2="215.55" stroke="#f3801a" stroke-width="1.5"/><polygon points="133.8,218 129.26,216.78 132.05,213.64" fill="#f3801a"/><line x1="118.8" y1="204.7" x2="118.8" y2="219.8" stroke="#f3801a" stroke-width="1.5"/><polygon points="118.8,223.5 116.7,219.3 120.9,219.3" fill="#f3801a"/><line x1="118.8" y1="204.7" x2="106.75" y2="215.53" stroke="#f3801a" stroke-width="1.5"/><polygon points="104,218 105.72,213.63 108.53,216.75" fill="#f3801a"/><line x1="118.8" y1="204.7" x2="102" y2="204.7" stroke="#f3801a" stroke-width="1.5"/><polygon points="98.3,204.7 102.5,202.6 102.5,206.8" fill="#f3801a"/><line x1="118.8" y1="204.7" x2="106.05" y2="193.18" stroke="#f3801a" stroke-width="1.5"/><polygon points="103.3,190.7 107.82,191.96 105.01,195.07" fill="#f3801a"/><text transform="translate(119.7,183.1) scale(1,1.0)" font-size="7.4" font-weight="bold" fill="#fff" text-anchor="middle" dominant-baseline="central">0</text><text transform="translate(137.5,188.9) scale(1,1.0)" font-size="7.4" font-weight="bold" fill="#fff" text-anchor="middle" dominant-baseline="central">0</text><text transform="translate(140.8,205.1) scale(1,1.0)" font-size="7.4" font-weight="bold" fill="#fff" text-anchor="middle" dominant-baseline="central">0</text><text transform="translate(135,221.4) scale(1,1.0)" font-size="7.4" font-weight="bold" fill="#fff" text-anchor="middle" dominant-baseline="central">0.1</text><text transform="translate(118.3,228.8) scale(1,1.0)" font-size="7.4" font-weight="bold" fill="#fff" text-anchor="middle" dominant-baseline="central">0.2</text><text transform="translate(101.8,221.4) scale(1,1.0)" font-size="7.4" font-weight="bold" fill="#fff" text-anchor="middle" dominant-baseline="central">0.2</text><text transform="translate(92.5,206.1) scale(1,1.0)" font-size="7.4" font-weight="bold" fill="#fff" text-anchor="middle" dominant-baseline="central">0.4</text><text transform="translate(102,188.9) scale(1,1.0)" font-size="7.4" font-weight="bold" fill="#fff" text-anchor="middle" dominant-baseline="central">0</text><text transform="translate(120.8,205.6) scale(1,1.0)" font-size="7.4" font-weight="bold" fill="#fff" text-anchor="middle" dominant-baseline="central">0.2</text><text transform="translate(15.5,179.2) scale(1,1.0)" font-size="8.4" fill="#111" text-anchor="middle" dominant-baseline="central" class="k">40</text><text transform="translate(15.5,193.17) scale(1,1.0)" font-size="8.4" fill="#111" text-anchor="middle" dominant-baseline="central" class="k">35</text><text transform="translate(15.5,207.14) scale(1,1.0)" font-size="8.4" fill="#111" text-anchor="middle" dominant-baseline="central" class="k">30</text><text transform="translate(15.5,221.11) scale(1,1.0)" font-size="8.4" fill="#111" text-anchor="middle" dominant-baseline="central" class="k">25</text><text transform="translate(15.5,235.09) scale(1,1.0)" font-size="8.4" fill="#111" text-anchor="middle" dominant-baseline="central" class="k">20</text><text transform="translate(15.5,249.06) scale(1,1.0)" font-size="8.4" fill="#111" text-anchor="middle" dominant-baseline="central" class="k">15</text><text transform="translate(15.5,263.03) scale(1,1.0)" font-size="8.4" fill="#111" text-anchor="middle" dominant-baseline="central" class="k">10</text><text transform="translate(15.5,277) scale(1,1.0)" font-size="8.4" fill="#111" text-anchor="middle" dominant-baseline="central" class="k">5</text><text transform="translate(34.5,293.4) scale(1,1.0)" font-size="8.4" fill="#111" text-anchor="middle" dominant-baseline="central" class="k">5</text><text transform="translate(49.99,293.4) scale(1,1.0)" font-size="8.4" fill="#111" text-anchor="middle" dominant-baseline="central" class="k">10</text><text transform="translate(65.47,293.4) scale(1,1.0)" font-size="8.4" fill="#111" text-anchor="middle" dominant-baseline="central" class="k">15</text><text transform="translate(80.96,293.4) scale(1,1.0)" font-size="8.4" fill="#111" text-anchor="middle" dominant-baseline="central" class="k">20</text><text transform="translate(96.44,293.4) scale(1,1.0)" font-size="8.4" fill="#111" text-anchor="middle" dominant-baseline="central" class="k">25</text><text transform="translate(111.93,293.4) scale(1,1.0)" font-size="8.4" fill="#111" text-anchor="middle" dominant-baseline="central" class="k">30</text><text transform="translate(127.41,293.4) scale(1,1.0)" font-size="8.4" fill="#111" text-anchor="middle" dominant-baseline="central" class="k">35</text><text transform="translate(142.9,293.4) scale(1,1.0)" font-size="8.4" fill="#111" text-anchor="middle" dominant-baseline="central" class="k">40</text><text transform="translate(83.9,301.2) scale(1,1.0)" font-size="8.4" fill="#111" text-anchor="middle" dominant-baseline="central" class="k">x(cell)</text><text transform="translate(6.6,233.8) rotate(-90) scale(1,1)" font-size="8.1" fill="#111" class="k" text-anchor="middle" dominant-baseline="central">y(cell)</text><rect x="149.1" y="179.25" width="3.5" height="106.75" fill="url(#cbg)"/><text transform="translate(157.9,276.4) scale(1,1.0)" font-size="8.4" fill="#111" text-anchor="middle" dominant-baseline="central" class="k">5</text><text transform="translate(157.9,265.54) scale(1,1.0)" font-size="8.4" fill="#111" text-anchor="middle" dominant-baseline="central" class="k">10</text><text transform="translate(157.9,254.69) scale(1,1.0)" font-size="8.4" fill="#111" text-anchor="middle" dominant-baseline="central" class="k">15</text><text transform="translate(157.9,243.83) scale(1,1.0)" font-size="8.4" fill="#111" text-anchor="middle" dominant-baseline="central" class="k">20</text><text transform="translate(157.9,232.97) scale(1,1.0)" font-size="8.4" fill="#111" text-anchor="middle" dominant-baseline="central" class="k">25</text><text transform="translate(157.9,222.12) scale(1,1.0)" font-size="8.4" fill="#111" text-anchor="middle" dominant-baseline="central" class="k">30</text><text transform="translate(157.9,211.26) scale(1,1.0)" font-size="8.4" fill="#111" text-anchor="middle" dominant-baseline="central" class="k">35</text><text transform="translate(157.9,200.41) scale(1,1.0)" font-size="8.4" fill="#111" text-anchor="middle" dominant-baseline="central" class="k">40</text><text transform="translate(157.9,189.55) scale(1,1.0)" font-size="8.4" fill="#111" text-anchor="middle" dominant-baseline="central" class="k">45</text><text transform="translate(156.5,177.4) scale(1,1)" font-size="8.2" fill="#111"><tspan font-size="6" x="-4" dy="-0.6">&#215;</tspan><tspan x="0" dy="0.6">10</tspan><tspan font-size="5.4" dx="0.6" dy="-3.6">-3</tspan></text><text x="48.4" y="329" font-size="12" fill="#000" stroke="#000" stroke-width="0.12" textLength="78.6" lengthAdjust="spacingAndGlyphs">(<tspan font-weight="bold">d</tspan>) scenario 4</text></g>
<g><rect x="210" y="180.5" width="122.6" height="106.5" fill="#3b26c2"/><rect x="247.52" y="180.5" width="3.09" height="0.77" fill="#3d2ecb"/><rect x="250.58" y="180.5" width="3.09" height="0.77" fill="#3e31ce"/><rect x="253.65" y="180.5" width="3.08" height="0.77" fill="#3f32d0"/><rect x="256.71" y="180.5" width="3.08" height="0.77" fill="#3e31ce"/><rect x="259.78" y="180.5" width="3.08" height="0.77" fill="#3d2ecb"/><rect x="241.39" y="181.25" width="3.09" height="2.68" fill="#3d2cc8"/><rect x="244.45" y="181.25" width="3.09" height="2.68" fill="#3f32d0"/><rect x="247.52" y="181.25" width="3.09" height="2.68" fill="#413bd9"/><rect x="250.58" y="181.25" width="3.09" height="2.68" fill="#4343e2"/><rect x="253.65" y="181.25" width="3.08" height="2.68" fill="#4446e6"/><rect x="256.71" y="181.25" width="3.08" height="2.68" fill="#4343e2"/><rect x="259.78" y="181.25" width="3.08" height="2.68" fill="#413bd9"/><rect x="262.84" y="181.25" width="3.08" height="2.68" fill="#3f32d0"/><rect x="265.91" y="181.25" width="3.08" height="2.68" fill="#3d2cc8"/><rect x="241.39" y="183.91" width="3.09" height="2.68" fill="#3f32d0"/><rect x="244.45" y="183.91" width="3.09" height="2.68" fill="#4240df"/><rect x="247.52" y="183.91" width="3.09" height="2.68" fill="#4852f4"/><rect x="250.58" y="183.91" width="3.09" height="2.68" fill="#3e66f5"/><rect x="253.65" y="183.91" width="3.08" height="2.68" fill="#3a6ef6"/><rect x="256.71" y="183.91" width="3.08" height="2.68" fill="#3e66f5"/><rect x="259.78" y="183.91" width="3.08" height="2.68" fill="#4852f4"/><rect x="262.84" y="183.91" width="3.08" height="2.68" fill="#4240df"/><rect x="265.91" y="183.91" width="3.08" height="2.68" fill="#3f32d0"/><rect x="238.32" y="186.57" width="3.09" height="2.68" fill="#3d2ecb"/><rect x="241.39" y="186.57" width="3.09" height="2.68" fill="#413bd9"/><rect x="244.45" y="186.57" width="3.09" height="2.68" fill="#4852f4"/><rect x="247.52" y="186.57" width="3.09" height="2.68" fill="#3578f6"/><rect x="250.58" y="186.57" width="3.09" height="2.68" fill="#2396eb"/><rect x="253.65" y="186.57" width="3.08" height="2.68" fill="#1ca2e2"/><rect x="256.71" y="186.57" width="3.08" height="2.68" fill="#2396eb"/><rect x="259.78" y="186.57" width="3.08" height="2.68" fill="#3578f6"/><rect x="262.84" y="186.57" width="3.08" height="2.68" fill="#4852f4"/><rect x="265.91" y="186.57" width="3.08" height="2.68" fill="#413bd9"/><rect x="268.97" y="186.57" width="3.09" height="2.68" fill="#3d2ecb"/><rect x="238.32" y="189.23" width="3.09" height="2.68" fill="#3e31ce"/><rect x="241.39" y="189.23" width="3.09" height="2.68" fill="#4343e3"/><rect x="244.45" y="189.23" width="3.09" height="2.68" fill="#3e66f5"/><rect x="247.52" y="189.23" width="3.09" height="2.68" fill="#2396eb"/><rect x="250.58" y="189.23" width="3.09" height="2.68" fill="#1cb7c5"/><rect x="253.65" y="189.23" width="3.08" height="2.68" fill="#2ac0ad"/><rect x="256.71" y="189.23" width="3.08" height="2.68" fill="#1cb7c5"/><rect x="259.78" y="189.23" width="3.08" height="2.68" fill="#2396eb"/><rect x="262.84" y="189.23" width="3.08" height="2.68" fill="#3e66f5"/><rect x="265.91" y="189.23" width="3.08" height="2.68" fill="#4343e2"/><rect x="268.97" y="189.23" width="3.09" height="2.68" fill="#3e31ce"/><rect x="235.26" y="191.9" width="3.09" height="2.68" fill="#3d2cc8"/><rect x="238.32" y="191.9" width="3.09" height="2.68" fill="#3f35d2"/><rect x="241.39" y="191.9" width="3.09" height="2.68" fill="#4548e8"/><rect x="244.45" y="191.9" width="3.09" height="2.68" fill="#3970f6"/><rect x="247.52" y="191.9" width="3.09" height="2.68" fill="#1ca2e2"/><rect x="250.58" y="191.9" width="3.09" height="2.68" fill="#2ac0ad"/><rect x="253.65" y="191.9" width="3.08" height="2.68" fill="#3ec891"/><rect x="256.71" y="191.9" width="3.08" height="2.68" fill="#2ac0ad"/><rect x="259.78" y="191.9" width="3.08" height="2.68" fill="#1ca2e2"/><rect x="262.84" y="191.9" width="3.08" height="2.68" fill="#3a6ef6"/><rect x="265.91" y="191.9" width="3.08" height="2.68" fill="#4446e6"/><rect x="268.97" y="191.9" width="3.09" height="2.68" fill="#3f32d0"/><rect x="232.19" y="194.56" width="3.09" height="2.68" fill="#3d2dca"/><rect x="235.26" y="194.56" width="3.09" height="2.68" fill="#3f35d2"/><rect x="238.32" y="194.56" width="3.09" height="2.68" fill="#423fde"/><rect x="241.39" y="194.56" width="3.09" height="2.68" fill="#464eef"/><rect x="244.45" y="194.56" width="3.09" height="2.68" fill="#3a6ef6"/><rect x="247.52" y="194.56" width="3.09" height="2.68" fill="#2299e9"/><rect x="250.58" y="194.56" width="3.09" height="2.68" fill="#1cb8c4"/><rect x="253.65" y="194.56" width="3.08" height="2.68" fill="#2ac0ad"/><rect x="256.71" y="194.56" width="3.08" height="2.68" fill="#1cb7c5"/><rect x="259.78" y="194.56" width="3.08" height="2.68" fill="#2396eb"/><rect x="262.84" y="194.56" width="3.08" height="2.68" fill="#3e66f5"/><rect x="265.91" y="194.56" width="3.08" height="2.68" fill="#4343e2"/><rect x="268.97" y="194.56" width="3.09" height="2.68" fill="#3e31ce"/><rect x="229.13" y="197.22" width="3.09" height="2.68" fill="#3e30cd"/><rect x="232.19" y="197.22" width="3.09" height="2.68" fill="#423fde"/><rect x="235.26" y="197.22" width="3.09" height="2.68" fill="#4655f4"/><rect x="238.32" y="197.22" width="3.09" height="2.68" fill="#3e66f5"/><rect x="241.39" y="197.22" width="3.09" height="2.68" fill="#3c6af5"/><rect x="244.45" y="197.22" width="3.09" height="2.68" fill="#396ff6"/><rect x="247.52" y="197.22" width="3.09" height="2.68" fill="#3083f7"/><rect x="250.58" y="197.22" width="3.09" height="2.68" fill="#2299e9"/><rect x="253.65" y="197.22" width="3.08" height="2.68" fill="#1ca2e2"/><rect x="256.71" y="197.22" width="3.08" height="2.68" fill="#2396eb"/><rect x="259.78" y="197.22" width="3.08" height="2.68" fill="#3578f6"/><rect x="262.84" y="197.22" width="3.08" height="2.68" fill="#4852f4"/><rect x="265.91" y="197.22" width="3.08" height="2.68" fill="#413bd9"/><rect x="268.97" y="197.22" width="3.09" height="2.68" fill="#3d2ecb"/><rect x="226.06" y="199.88" width="3.09" height="2.68" fill="#3d2eca"/><rect x="229.13" y="199.88" width="3.09" height="2.68" fill="#4240df"/><rect x="232.19" y="199.88" width="3.09" height="2.68" fill="#3b6cf6"/><rect x="235.26" y="199.88" width="3.09" height="2.68" fill="#1ba3e1"/><rect x="238.32" y="199.88" width="3.09" height="2.68" fill="#1db8c3"/><rect x="241.39" y="199.88" width="3.09" height="2.68" fill="#14add9"/><rect x="244.45" y="199.88" width="3.09" height="2.68" fill="#2c89f5"/><rect x="247.52" y="199.88" width="3.09" height="2.68" fill="#396ff6"/><rect x="250.58" y="199.88" width="3.09" height="2.68" fill="#3a6ef6"/><rect x="253.65" y="199.88" width="3.08" height="2.68" fill="#3970f6"/><rect x="256.71" y="199.88" width="3.08" height="2.68" fill="#3e66f5"/><rect x="259.78" y="199.88" width="3.08" height="2.68" fill="#4852f4"/><rect x="262.84" y="199.88" width="3.08" height="2.68" fill="#4240df"/><rect x="265.91" y="199.88" width="3.08" height="2.68" fill="#3f32d0"/><rect x="223" y="202.55" width="3.09" height="2.68" fill="#3d2dc9"/><rect x="226.06" y="202.55" width="3.09" height="2.68" fill="#3f36d3"/><rect x="229.13" y="202.55" width="3.09" height="2.68" fill="#4656f4"/><rect x="232.19" y="202.55" width="3.09" height="2.68" fill="#1aa4e0"/><rect x="235.26" y="202.55" width="3.09" height="2.68" fill="#91c74e"/><rect x="238.32" y="202.55" width="3.09" height="2.68" fill="#efc438"/><rect x="241.39" y="202.55" width="3.09" height="2.68" fill="#9cc745"/><rect x="244.45" y="202.55" width="3.09" height="2.68" fill="#14add9"/><rect x="247.52" y="202.55" width="3.09" height="2.68" fill="#3c6af5"/><rect x="250.58" y="202.55" width="3.09" height="2.68" fill="#464eef"/><rect x="253.65" y="202.55" width="3.08" height="2.68" fill="#4548e8"/><rect x="256.71" y="202.55" width="3.08" height="2.68" fill="#4343e3"/><rect x="259.78" y="202.55" width="3.08" height="2.68" fill="#413bd9"/><rect x="262.84" y="202.55" width="3.08" height="2.68" fill="#3f32d0"/><rect x="265.91" y="202.55" width="3.08" height="2.68" fill="#3d2cc8"/><rect x="213.8" y="205.21" width="3.09" height="2.68" fill="#3d2cc8"/><rect x="216.87" y="205.21" width="3.09" height="2.68" fill="#3e2fcc"/><rect x="219.93" y="205.21" width="3.09" height="2.68" fill="#3f33d0"/><rect x="223" y="205.21" width="3.09" height="2.68" fill="#4036d4"/><rect x="226.06" y="205.21" width="3.09" height="2.68" fill="#4240df"/><rect x="229.13" y="205.21" width="3.09" height="2.68" fill="#3d68f5"/><rect x="232.19" y="205.21" width="3.09" height="2.68" fill="#1eb9c1"/><rect x="235.26" y="205.21" width="3.09" height="2.68" fill="#f0c438"/><rect x="238.32" y="205.21" width="3.09" height="2.68" fill="#f9fb15"/><rect x="241.39" y="205.21" width="3.09" height="2.68" fill="#efc438"/><rect x="244.45" y="205.21" width="3.09" height="2.68" fill="#1db8c3"/><rect x="247.52" y="205.21" width="3.09" height="2.68" fill="#3e66f5"/><rect x="250.58" y="205.21" width="3.09" height="2.68" fill="#423fde"/><rect x="253.65" y="205.21" width="3.08" height="2.68" fill="#3f35d2"/><rect x="256.71" y="205.21" width="3.08" height="2.68" fill="#3e31ce"/><rect x="259.78" y="205.21" width="3.08" height="2.68" fill="#3d2ecb"/><rect x="210.74" y="207.87" width="3.09" height="2.68" fill="#3d2dca"/><rect x="213.8" y="207.87" width="3.09" height="2.68" fill="#3f34d1"/><rect x="216.87" y="207.87" width="3.09" height="2.68" fill="#413ddb"/><rect x="219.93" y="207.87" width="3.09" height="2.68" fill="#4444e4"/><rect x="223" y="207.87" width="3.09" height="2.68" fill="#4549ea"/><rect x="226.06" y="207.87" width="3.09" height="2.68" fill="#474ff1"/><rect x="229.13" y="207.87" width="3.09" height="2.68" fill="#3b6cf6"/><rect x="232.19" y="207.87" width="3.09" height="2.68" fill="#13afd8"/><rect x="235.26" y="207.87" width="3.09" height="2.68" fill="#9fc743"/><rect x="238.32" y="207.87" width="3.09" height="2.68" fill="#f0c438"/><rect x="241.39" y="207.87" width="3.09" height="2.68" fill="#91c74e"/><rect x="244.45" y="207.87" width="3.09" height="2.68" fill="#1ba3e1"/><rect x="247.52" y="207.87" width="3.09" height="2.68" fill="#4655f4"/><rect x="250.58" y="207.87" width="3.09" height="2.68" fill="#3f35d2"/><rect x="253.65" y="207.87" width="3.08" height="2.68" fill="#3d2cc8"/><rect x="210" y="210.53" width="0.76" height="2.68" fill="#3d2cc8"/><rect x="210.74" y="210.53" width="3.09" height="2.68" fill="#3f34d1"/><rect x="213.8" y="210.53" width="3.09" height="2.68" fill="#4341e1"/><rect x="216.87" y="210.53" width="3.09" height="2.68" fill="#4753f4"/><rect x="219.93" y="210.53" width="3.09" height="2.68" fill="#3e65f5"/><rect x="223" y="210.53" width="3.09" height="2.68" fill="#3a6ef6"/><rect x="226.06" y="210.53" width="3.09" height="2.68" fill="#3b6cf6"/><rect x="229.13" y="210.53" width="3.09" height="2.68" fill="#3970f6"/><rect x="232.19" y="210.53" width="3.09" height="2.68" fill="#2b8af4"/><rect x="235.26" y="210.53" width="3.09" height="2.68" fill="#13afd8"/><rect x="238.32" y="210.53" width="3.09" height="2.68" fill="#1eb9c1"/><rect x="241.39" y="210.53" width="3.09" height="2.68" fill="#1aa4e0"/><rect x="244.45" y="210.53" width="3.09" height="2.68" fill="#3b6cf6"/><rect x="247.52" y="210.53" width="3.09" height="2.68" fill="#423fde"/><rect x="250.58" y="210.53" width="3.09" height="2.68" fill="#3d2dca"/><rect x="210" y="213.2" width="0.76" height="2.68" fill="#3e2fcc"/><rect x="210.74" y="213.2" width="3.09" height="2.68" fill="#413cdb"/><rect x="213.8" y="213.2" width="3.09" height="2.68" fill="#4753f4"/><rect x="216.87" y="213.2" width="3.09" height="2.68" fill="#3775f6"/><rect x="219.93" y="213.2" width="3.09" height="2.68" fill="#2790f0"/><rect x="223" y="213.2" width="3.09" height="2.68" fill="#219ae8"/><rect x="226.06" y="213.2" width="3.09" height="2.68" fill="#2692ee"/><rect x="229.13" y="213.2" width="3.09" height="2.68" fill="#3180f7"/><rect x="232.19" y="213.2" width="3.09" height="2.68" fill="#3970f6"/><rect x="235.26" y="213.2" width="3.09" height="2.68" fill="#3b6cf6"/><rect x="238.32" y="213.2" width="3.09" height="2.68" fill="#3d68f5"/><rect x="241.39" y="213.2" width="3.09" height="2.68" fill="#4656f4"/><rect x="244.45" y="213.2" width="3.09" height="2.68" fill="#4240df"/><rect x="247.52" y="213.2" width="3.09" height="2.68" fill="#3e30cd"/><rect x="210" y="215.86" width="0.76" height="2.68" fill="#3f33d0"/><rect x="210.74" y="215.86" width="3.09" height="2.68" fill="#4444e4"/><rect x="213.8" y="215.86" width="3.09" height="2.68" fill="#3e65f5"/><rect x="216.87" y="215.86" width="3.09" height="2.68" fill="#2790f0"/><rect x="219.93" y="215.86" width="3.09" height="2.68" fill="#12b1d6"/><rect x="223" y="215.86" width="3.09" height="2.68" fill="#1db8c3"/><rect x="226.06" y="215.86" width="3.09" height="2.68" fill="#12b1d6"/><rect x="229.13" y="215.86" width="3.09" height="2.68" fill="#2692ee"/><rect x="232.19" y="215.86" width="3.09" height="2.68" fill="#3b6cf6"/><rect x="235.26" y="215.86" width="3.09" height="2.68" fill="#474ff1"/><rect x="238.32" y="215.86" width="3.09" height="2.68" fill="#4240df"/><rect x="241.39" y="215.86" width="3.09" height="2.68" fill="#3f36d3"/><rect x="244.45" y="215.86" width="3.09" height="2.68" fill="#3d2eca"/><rect x="210" y="218.52" width="0.76" height="2.68" fill="#3f34d1"/><rect x="210.74" y="218.52" width="3.09" height="2.68" fill="#4547e8"/><rect x="213.8" y="218.52" width="3.09" height="2.68" fill="#3b6cf6"/><rect x="216.87" y="218.52" width="3.09" height="2.68" fill="#219ae8"/><rect x="219.93" y="218.52" width="3.09" height="2.68" fill="#1db8c3"/><rect x="223" y="218.52" width="3.09" height="2.68" fill="#2ac0ae"/><rect x="226.06" y="218.52" width="3.09" height="2.68" fill="#1db8c3"/><rect x="229.13" y="218.52" width="3.09" height="2.68" fill="#219ae8"/><rect x="232.19" y="218.52" width="3.09" height="2.68" fill="#3a6ef6"/><rect x="235.26" y="218.52" width="3.09" height="2.68" fill="#4549ea"/><rect x="238.32" y="218.52" width="3.09" height="2.68" fill="#4036d4"/><rect x="241.39" y="218.52" width="3.09" height="2.68" fill="#3d2dc9"/><rect x="210" y="221.18" width="0.76" height="2.68" fill="#3f33d0"/><rect x="210.74" y="221.18" width="3.09" height="2.68" fill="#4444e4"/><rect x="213.8" y="221.18" width="3.09" height="2.68" fill="#3e65f5"/><rect x="216.87" y="221.18" width="3.09" height="2.68" fill="#2790f0"/><rect x="219.93" y="221.18" width="3.09" height="2.68" fill="#12b1d6"/><rect x="223" y="221.18" width="3.09" height="2.68" fill="#1db8c3"/><rect x="226.06" y="221.18" width="3.09" height="2.68" fill="#12b1d6"/><rect x="229.13" y="221.18" width="3.09" height="2.68" fill="#2790f0"/><rect x="232.19" y="221.18" width="3.09" height="2.68" fill="#3e65f5"/><rect x="235.26" y="221.18" width="3.09" height="2.68" fill="#4444e4"/><rect x="238.32" y="221.18" width="3.09" height="2.68" fill="#3f33d0"/><rect x="210" y="223.85" width="0.76" height="2.68" fill="#3e2fcc"/><rect x="210.74" y="223.85" width="3.09" height="2.68" fill="#413cdb"/><rect x="213.8" y="223.85" width="3.09" height="2.68" fill="#4753f4"/><rect x="216.87" y="223.85" width="3.09" height="2.68" fill="#3775f6"/><rect x="219.93" y="223.85" width="3.09" height="2.68" fill="#2790f0"/><rect x="223" y="223.85" width="3.09" height="2.68" fill="#219ae8"/><rect x="226.06" y="223.85" width="3.09" height="2.68" fill="#2790f0"/><rect x="229.13" y="223.85" width="3.09" height="2.68" fill="#3775f6"/><rect x="232.19" y="223.85" width="3.09" height="2.68" fill="#4753f4"/><rect x="235.26" y="223.85" width="3.09" height="2.68" fill="#413ddb"/><rect x="238.32" y="223.85" width="3.09" height="2.68" fill="#3e2fcc"/><rect x="210" y="226.51" width="0.76" height="2.68" fill="#3d2cc8"/><rect x="210.74" y="226.51" width="3.09" height="2.68" fill="#3f34d1"/><rect x="213.8" y="226.51" width="3.09" height="2.68" fill="#4341e1"/><rect x="216.87" y="226.51" width="3.09" height="2.68" fill="#4753f4"/><rect x="219.93" y="226.51" width="3.09" height="2.68" fill="#3e65f5"/><rect x="223" y="226.51" width="3.09" height="2.68" fill="#3b6cf6"/><rect x="226.06" y="226.51" width="3.09" height="2.68" fill="#3e65f5"/><rect x="229.13" y="226.51" width="3.09" height="2.68" fill="#4753f4"/><rect x="232.19" y="226.51" width="3.09" height="2.68" fill="#4341e1"/><rect x="235.26" y="226.51" width="3.09" height="2.68" fill="#3f34d1"/><rect x="238.32" y="226.51" width="3.09" height="2.68" fill="#3d2cc8"/><rect x="210.74" y="229.17" width="3.09" height="2.68" fill="#3d2dca"/><rect x="213.8" y="229.17" width="3.09" height="2.68" fill="#3f34d1"/><rect x="216.87" y="229.17" width="3.09" height="2.68" fill="#413cdb"/><rect x="219.93" y="229.17" width="3.09" height="2.68" fill="#4444e4"/><rect x="223" y="229.17" width="3.09" height="2.68" fill="#4547e8"/><rect x="226.06" y="229.17" width="3.09" height="2.68" fill="#4444e4"/><rect x="229.13" y="229.17" width="3.09" height="2.68" fill="#413cdb"/><rect x="232.19" y="229.17" width="3.09" height="2.68" fill="#3f34d1"/><rect x="235.26" y="229.17" width="3.09" height="2.68" fill="#3d2dca"/><rect x="213.8" y="231.83" width="3.09" height="2.68" fill="#3d2cc8"/><rect x="216.87" y="231.83" width="3.09" height="2.68" fill="#3e2fcc"/><rect x="219.93" y="231.83" width="3.09" height="2.68" fill="#3f33d0"/><rect x="223" y="231.83" width="3.09" height="2.68" fill="#3f34d1"/><rect x="226.06" y="231.83" width="3.09" height="2.68" fill="#3f33d0"/><rect x="229.13" y="231.83" width="3.09" height="2.68" fill="#3e2fcc"/><rect x="232.19" y="231.83" width="3.09" height="2.68" fill="#3d2cc8"/><path d="M210.74,180.5V287M213.8,180.5V287M216.87,180.5V287M219.93,180.5V287M223,180.5V287M226.06,180.5V287M229.13,180.5V287M232.19,180.5V287M235.26,180.5V287M238.32,180.5V287M241.39,180.5V287M244.45,180.5V287M247.52,180.5V287M250.58,180.5V287M253.65,180.5V287M256.71,180.5V287M259.78,180.5V287M262.84,180.5V287M265.91,180.5V287M268.97,180.5V287M272.04,180.5V287M275.1,180.5V287M278.17,180.5V287M281.23,180.5V287M284.3,180.5V287M287.36,180.5V287M290.43,180.5V287M293.49,180.5V287M296.56,180.5V287M299.62,180.5V287M302.69,180.5V287M305.75,180.5V287M308.82,180.5V287M311.88,180.5V287M314.95,180.5V287M318.01,180.5V287M321.08,180.5V287M324.14,180.5V287M327.21,180.5V287M330.27,180.5V287M210,181.25H332.6M210,183.91H332.6M210,186.57H332.6M210,189.23H332.6M210,191.9H332.6M210,194.56H332.6M210,197.22H332.6M210,199.88H332.6M210,202.55H332.6M210,205.21H332.6M210,207.87H332.6M210,210.53H332.6M210,213.2H332.6M210,215.86H332.6M210,218.52H332.6M210,221.18H332.6M210,223.85H332.6M210,226.51H332.6M210,229.17H332.6M210,231.83H332.6M210,234.5H332.6M210,237.16H332.6M210,239.82H332.6M210,242.48H332.6M210,245.15H332.6M210,247.81H332.6M210,250.47H332.6M210,253.13H332.6M210,255.8H332.6M210,258.46H332.6M210,261.12H332.6M210,263.78H332.6M210,266.45H332.6M210,269.11H332.6M210,271.77H332.6M210,274.43H332.6M210,277.1H332.6M210,279.76H332.6M210,282.42H332.6M210,285.08H332.6" stroke="#000" stroke-opacity="0.2" stroke-width="0.8" fill="none"/><circle cx="294.1" cy="230.7" r="1.4" fill="#ff1010"/><circle cx="284.5" cy="239.4" r="1.4" fill="#ff1010"/><circle cx="275.2" cy="247.8" r="1.4" fill="#ff1010"/><line x1="299.5" y1="206.7" x2="299.5" y2="189" stroke="#f3801a" stroke-width="1.5"/><polygon points="299.5,185.3 301.6,189.5 297.4,189.5" fill="#f3801a"/><line x1="299.5" y1="206.7" x2="313.52" y2="194.44" stroke="#f3801a" stroke-width="1.5"/><polygon points="316.3,192 314.52,196.35 311.76,193.19" fill="#f3801a"/><line x1="299.5" y1="206.7" x2="319.3" y2="206.7" stroke="#f3801a" stroke-width="1.5"/><polygon points="323,206.7 318.8,208.8 318.8,204.6" fill="#f3801a"/><line x1="299.5" y1="206.7" x2="313.54" y2="219.24" stroke="#f3801a" stroke-width="1.5"/><polygon points="316.3,221.7 311.77,220.47 314.57,217.34" fill="#f3801a"/><line x1="299.5" y1="206.7" x2="299.5" y2="223.8" stroke="#f3801a" stroke-width="1.5"/><polygon points="299.5,227.5 297.4,223.3 301.6,223.3" fill="#f3801a"/><line x1="299.5" y1="206.7" x2="285.46" y2="219.24" stroke="#f3801a" stroke-width="1.5"/><polygon points="282.7,221.7 284.43,217.34 287.23,220.47" fill="#f3801a"/><line x1="299.5" y1="206.7" x2="279.9" y2="206.7" stroke="#f3801a" stroke-width="1.5"/><polygon points="276.2,206.7 280.4,204.6 280.4,208.8" fill="#f3801a"/><line x1="299.5" y1="206.7" x2="285.48" y2="194.44" stroke="#f3801a" stroke-width="1.5"/><polygon points="282.7,192 287.24,193.19 284.48,196.35" fill="#f3801a"/><text transform="translate(300,182.9) scale(1,1.0)" font-size="7.4" font-weight="bold" fill="#fff" text-anchor="middle" dominant-baseline="central">0</text><text transform="translate(319.5,189.6) scale(1,1.0)" font-size="7.4" font-weight="bold" fill="#fff" text-anchor="middle" dominant-baseline="central">0</text><text transform="translate(327,207.4) scale(1,1.0)" font-size="7.4" font-weight="bold" fill="#fff" text-anchor="middle" dominant-baseline="central">0.3</text><text transform="translate(319.5,225.4) scale(1,1.0)" font-size="7.4" font-weight="bold" fill="#fff" text-anchor="middle" dominant-baseline="central">0.5</text><text transform="translate(302.3,232.4) scale(1,1.0)" font-size="7.4" font-weight="bold" fill="#fff" text-anchor="middle" dominant-baseline="central">0.1</text><text transform="translate(281.7,225.1) scale(1,1.0)" font-size="7.4" font-weight="bold" fill="#fff" text-anchor="middle" dominant-baseline="central">0</text><text transform="translate(272.5,207.4) scale(1,1.0)" font-size="7.4" font-weight="bold" fill="#fff" text-anchor="middle" dominant-baseline="central">0</text><text transform="translate(280.3,189.6) scale(1,1.0)" font-size="7.4" font-weight="bold" fill="#fff" text-anchor="middle" dominant-baseline="central">0</text><text transform="translate(299.5,207.1) scale(1,1.0)" font-size="7.4" font-weight="bold" fill="#fff" text-anchor="middle" dominant-baseline="central">0.1</text><text transform="translate(203.6,179.5) scale(1,1.0)" font-size="8.4" fill="#111" text-anchor="middle" dominant-baseline="central" class="k">40</text><text transform="translate(203.6,193.63) scale(1,1.0)" font-size="8.4" fill="#111" text-anchor="middle" dominant-baseline="central" class="k">35</text><text transform="translate(203.6,207.76) scale(1,1.0)" font-size="8.4" fill="#111" text-anchor="middle" dominant-baseline="central" class="k">30</text><text transform="translate(203.6,221.89) scale(1,1.0)" font-size="8.4" fill="#111" text-anchor="middle" dominant-baseline="central" class="k">25</text><text transform="translate(203.6,236.01) scale(1,1.0)" font-size="8.4" fill="#111" text-anchor="middle" dominant-baseline="central" class="k">20</text><text transform="translate(203.6,250.14) scale(1,1.0)" font-size="8.4" fill="#111" text-anchor="middle" dominant-baseline="central" class="k">15</text><text transform="translate(203.6,264.27) scale(1,1.0)" font-size="8.4" fill="#111" text-anchor="middle" dominant-baseline="central" class="k">10</text><text transform="translate(203.6,278.4) scale(1,1.0)" font-size="8.4" fill="#111" text-anchor="middle" dominant-baseline="central" class="k">5</text><text transform="translate(222.5,294.9) scale(1,1.0)" font-size="8.4" fill="#111" text-anchor="middle" dominant-baseline="central" class="k">5</text><text transform="translate(237.97,294.9) scale(1,1.0)" font-size="8.4" fill="#111" text-anchor="middle" dominant-baseline="central" class="k">10</text><text transform="translate(253.44,294.9) scale(1,1.0)" font-size="8.4" fill="#111" text-anchor="middle" dominant-baseline="central" class="k">15</text><text transform="translate(268.91,294.9) scale(1,1.0)" font-size="8.4" fill="#111" text-anchor="middle" dominant-baseline="central" class="k">20</text><text transform="translate(284.39,294.9) scale(1,1.0)" font-size="8.4" fill="#111" text-anchor="middle" dominant-baseline="central" class="k">25</text><text transform="translate(299.86,294.9) scale(1,1.0)" font-size="8.4" fill="#111" text-anchor="middle" dominant-baseline="central" class="k">30</text><text transform="translate(315.33,294.9) scale(1,1.0)" font-size="8.4" fill="#111" text-anchor="middle" dominant-baseline="central" class="k">35</text><text transform="translate(330.8,294.9) scale(1,1.0)" font-size="8.4" fill="#111" text-anchor="middle" dominant-baseline="central" class="k">40</text><text transform="translate(272.1,302.5) scale(1,1.0)" font-size="8.4" fill="#111" text-anchor="middle" dominant-baseline="central" class="k">x(cell)</text><text transform="translate(194.6,235) rotate(-90) scale(1,1)" font-size="8.1" fill="#111" class="k" text-anchor="middle" dominant-baseline="central">y(cell)</text><rect x="337.3" y="180.1" width="3.4" height="106.9" fill="url(#cbg)"/><text transform="translate(346.45,277.4) scale(1,1.0)" font-size="8.4" fill="#111" text-anchor="middle" dominant-baseline="central" class="k">5</text><text transform="translate(346.45,266.52) scale(1,1.0)" font-size="8.4" fill="#111" text-anchor="middle" dominant-baseline="central" class="k">10</text><text transform="translate(346.45,255.65) scale(1,1.0)" font-size="8.4" fill="#111" text-anchor="middle" dominant-baseline="central" class="k">15</text><text transform="translate(346.45,244.78) scale(1,1.0)" font-size="8.4" fill="#111" text-anchor="middle" dominant-baseline="central" class="k">20</text><text transform="translate(346.45,233.9) scale(1,1.0)" font-size="8.4" fill="#111" text-anchor="middle" dominant-baseline="central" class="k">25</text><text transform="translate(346.45,223.03) scale(1,1.0)" font-size="8.4" fill="#111" text-anchor="middle" dominant-baseline="central" class="k">30</text><text transform="translate(346.45,212.15) scale(1,1.0)" font-size="8.4" fill="#111" text-anchor="middle" dominant-baseline="central" class="k">35</text><text transform="translate(346.45,201.28) scale(1,1.0)" font-size="8.4" fill="#111" text-anchor="middle" dominant-baseline="central" class="k">40</text><text transform="translate(346.45,190.4) scale(1,1.0)" font-size="8.4" fill="#111" text-anchor="middle" dominant-baseline="central" class="k">45</text><text transform="translate(345.75,179.25) scale(1,1)" font-size="8.2" fill="#111"><tspan font-size="6" x="-4" dy="-0.6">&#215;</tspan><tspan x="0" dy="0.6">10</tspan><tspan font-size="5.4" dx="0.6" dy="-3.6">-3</tspan></text><text x="237.6" y="329" font-size="12" fill="#000" stroke="#000" stroke-width="0.12" textLength="76.4" lengthAdjust="spacingAndGlyphs">(<tspan font-weight="bold">e</tspan>) scenario 5</text></g>
<g><rect x="398.75" y="180.5" width="120.25" height="106" fill="#3b26c2"/><rect x="439.15" y="189.32" width="3.03" height="2.67" fill="#3d2bc7"/><rect x="442.16" y="189.32" width="3.03" height="2.67" fill="#3d2cc8"/><rect x="445.17" y="189.32" width="3.03" height="2.67" fill="#3d2bc7"/><rect x="433.14" y="191.97" width="3.03" height="2.67" fill="#3d2dc9"/><rect x="436.15" y="191.97" width="3.03" height="2.67" fill="#3e31ce"/><rect x="439.15" y="191.97" width="3.03" height="2.67" fill="#3f34d2"/><rect x="442.16" y="191.97" width="3.03" height="2.67" fill="#3f35d3"/><rect x="445.17" y="191.97" width="3.03" height="2.67" fill="#3f34d2"/><rect x="448.17" y="191.97" width="3.03" height="2.67" fill="#3e31ce"/><rect x="451.18" y="191.97" width="3.03" height="2.67" fill="#3d2dc9"/><rect x="430.14" y="194.62" width="3.03" height="2.67" fill="#3d2ecb"/><rect x="433.14" y="194.62" width="3.03" height="2.67" fill="#3f35d3"/><rect x="436.15" y="194.62" width="3.03" height="2.67" fill="#423ede"/><rect x="439.15" y="194.62" width="3.03" height="2.67" fill="#4446e7"/><rect x="442.16" y="194.62" width="3.03" height="2.67" fill="#454aea"/><rect x="445.17" y="194.62" width="3.03" height="2.67" fill="#4446e7"/><rect x="448.17" y="194.62" width="3.03" height="2.67" fill="#423ede"/><rect x="451.18" y="194.62" width="3.03" height="2.67" fill="#3f35d3"/><rect x="454.19" y="194.62" width="3.03" height="2.67" fill="#3d2ecb"/><rect x="466.21" y="194.62" width="3.03" height="2.67" fill="#3d2dc9"/><rect x="469.22" y="194.62" width="3.03" height="2.67" fill="#3e31cf"/><rect x="472.22" y="194.62" width="3.03" height="2.67" fill="#3f34d1"/><rect x="475.23" y="194.62" width="3.03" height="2.67" fill="#3e31cf"/><rect x="478.24" y="194.62" width="3.03" height="2.67" fill="#3d2cc9"/><rect x="427.13" y="197.27" width="3.03" height="2.67" fill="#3d2dc9"/><rect x="430.14" y="197.27" width="3.03" height="2.67" fill="#3f35d3"/><rect x="433.14" y="197.27" width="3.03" height="2.67" fill="#4344e3"/><rect x="436.15" y="197.27" width="3.03" height="2.67" fill="#4656f4"/><rect x="439.15" y="197.27" width="3.03" height="2.67" fill="#3d68f5"/><rect x="442.16" y="197.27" width="3.03" height="2.67" fill="#396ff6"/><rect x="445.17" y="197.27" width="3.03" height="2.67" fill="#3d68f5"/><rect x="448.17" y="197.27" width="3.03" height="2.67" fill="#4656f4"/><rect x="451.18" y="197.27" width="3.03" height="2.67" fill="#4344e3"/><rect x="454.19" y="197.27" width="3.03" height="2.67" fill="#3f35d3"/><rect x="457.19" y="197.27" width="3.03" height="2.67" fill="#3d2dca"/><rect x="463.2" y="197.27" width="3.03" height="2.67" fill="#3e30cd"/><rect x="466.21" y="197.27" width="3.03" height="2.67" fill="#423fde"/><rect x="469.22" y="197.27" width="3.03" height="2.67" fill="#4852f4"/><rect x="472.22" y="197.27" width="3.03" height="2.67" fill="#425df5"/><rect x="475.23" y="197.27" width="3.03" height="2.67" fill="#4852f4"/><rect x="478.24" y="197.27" width="3.03" height="2.67" fill="#423fde"/><rect x="481.24" y="197.27" width="3.03" height="2.67" fill="#3e2fcc"/><rect x="427.13" y="199.92" width="3.03" height="2.67" fill="#3e31ce"/><rect x="430.14" y="199.92" width="3.03" height="2.67" fill="#423ede"/><rect x="433.14" y="199.92" width="3.03" height="2.67" fill="#4656f4"/><rect x="436.15" y="199.92" width="3.03" height="2.67" fill="#3578f6"/><rect x="439.15" y="199.92" width="3.03" height="2.67" fill="#2692ee"/><rect x="442.16" y="199.92" width="3.03" height="2.67" fill="#209ce7"/><rect x="445.17" y="199.92" width="3.03" height="2.67" fill="#2692ee"/><rect x="448.17" y="199.92" width="3.03" height="2.67" fill="#3578f6"/><rect x="451.18" y="199.92" width="3.03" height="2.67" fill="#4656f4"/><rect x="454.19" y="199.92" width="3.03" height="2.67" fill="#423fde"/><rect x="457.19" y="199.92" width="3.03" height="2.67" fill="#3e32cf"/><rect x="460.2" y="199.92" width="3.03" height="2.67" fill="#3e30cd"/><rect x="463.2" y="199.92" width="3.03" height="2.67" fill="#4240df"/><rect x="466.21" y="199.92" width="3.03" height="2.67" fill="#3b6bf6"/><rect x="469.22" y="199.92" width="3.03" height="2.67" fill="#1ca2e2"/><rect x="472.22" y="199.92" width="3.03" height="2.67" fill="#19b6c9"/><rect x="475.23" y="199.92" width="3.03" height="2.67" fill="#1ca2e2"/><rect x="478.24" y="199.92" width="3.03" height="2.67" fill="#3b6bf5"/><rect x="481.24" y="199.92" width="3.03" height="2.67" fill="#423fde"/><rect x="484.25" y="199.92" width="3.03" height="2.67" fill="#3d2cc9"/><rect x="424.12" y="202.57" width="3.03" height="2.67" fill="#3d2bc7"/><rect x="427.13" y="202.57" width="3.03" height="2.67" fill="#3f34d2"/><rect x="430.14" y="202.57" width="3.03" height="2.67" fill="#4446e7"/><rect x="433.14" y="202.57" width="3.03" height="2.67" fill="#3d68f5"/><rect x="436.15" y="202.57" width="3.03" height="2.67" fill="#2692ee"/><rect x="439.15" y="202.57" width="3.03" height="2.67" fill="#12b1d5"/><rect x="442.16" y="202.57" width="3.03" height="2.67" fill="#1db8c2"/><rect x="445.17" y="202.57" width="3.03" height="2.67" fill="#12b1d5"/><rect x="448.17" y="202.57" width="3.03" height="2.67" fill="#2692ee"/><rect x="451.18" y="202.57" width="3.03" height="2.67" fill="#3d68f5"/><rect x="454.19" y="202.57" width="3.03" height="2.67" fill="#4447e7"/><rect x="457.19" y="202.57" width="3.03" height="2.67" fill="#4036d4"/><rect x="460.2" y="202.57" width="3.03" height="2.67" fill="#4036d4"/><rect x="463.2" y="202.57" width="3.03" height="2.67" fill="#4754f4"/><rect x="466.21" y="202.57" width="3.03" height="2.67" fill="#1ca2e2"/><rect x="469.22" y="202.57" width="3.03" height="2.67" fill="#8dc751"/><rect x="472.22" y="202.57" width="3.03" height="2.67" fill="#eac438"/><rect x="475.23" y="202.57" width="3.03" height="2.67" fill="#8dc752"/><rect x="478.24" y="202.57" width="3.03" height="2.67" fill="#1ca2e2"/><rect x="481.24" y="202.57" width="3.03" height="2.67" fill="#4852f4"/><rect x="484.25" y="202.57" width="3.03" height="2.67" fill="#3e31cf"/><rect x="424.12" y="205.22" width="3.03" height="2.67" fill="#3d2cc8"/><rect x="427.13" y="205.22" width="3.03" height="2.67" fill="#3f35d3"/><rect x="430.14" y="205.22" width="3.03" height="2.67" fill="#454aea"/><rect x="433.14" y="205.22" width="3.03" height="2.67" fill="#396ff6"/><rect x="436.15" y="205.22" width="3.03" height="2.67" fill="#209ce7"/><rect x="439.15" y="205.22" width="3.03" height="2.67" fill="#1db8c2"/><rect x="442.16" y="205.22" width="3.03" height="2.67" fill="#2ac0ae"/><rect x="445.17" y="205.22" width="3.03" height="2.67" fill="#1db8c2"/><rect x="448.17" y="205.22" width="3.03" height="2.67" fill="#209ce7"/><rect x="451.18" y="205.22" width="3.03" height="2.67" fill="#396ff6"/><rect x="454.19" y="205.22" width="3.03" height="2.67" fill="#454aeb"/><rect x="457.19" y="205.22" width="3.03" height="2.67" fill="#4038d6"/><rect x="460.2" y="205.22" width="3.03" height="2.67" fill="#4139d7"/><rect x="463.2" y="205.22" width="3.03" height="2.67" fill="#415ff5"/><rect x="466.21" y="205.22" width="3.03" height="2.67" fill="#1ab6c9"/><rect x="469.22" y="205.22" width="3.03" height="2.67" fill="#eac438"/><rect x="472.22" y="205.22" width="3.03" height="2.67" fill="#f9fb15"/><rect x="475.23" y="205.22" width="3.03" height="2.67" fill="#eac438"/><rect x="478.24" y="205.22" width="3.03" height="2.67" fill="#19b6c9"/><rect x="481.24" y="205.22" width="3.03" height="2.67" fill="#425df5"/><rect x="484.25" y="205.22" width="3.03" height="2.67" fill="#3f34d1"/><rect x="424.12" y="207.87" width="3.03" height="2.67" fill="#3d2bc7"/><rect x="427.13" y="207.87" width="3.03" height="2.67" fill="#3f34d2"/><rect x="430.14" y="207.87" width="3.03" height="2.67" fill="#4446e7"/><rect x="433.14" y="207.87" width="3.03" height="2.67" fill="#3d68f5"/><rect x="436.15" y="207.87" width="3.03" height="2.67" fill="#2692ee"/><rect x="439.15" y="207.87" width="3.03" height="2.67" fill="#12b1d5"/><rect x="442.16" y="207.87" width="3.03" height="2.67" fill="#1db8c2"/><rect x="445.17" y="207.87" width="3.03" height="2.67" fill="#12b1d5"/><rect x="448.17" y="207.87" width="3.03" height="2.67" fill="#2692ee"/><rect x="451.18" y="207.87" width="3.03" height="2.67" fill="#3d68f5"/><rect x="454.19" y="207.87" width="3.03" height="2.67" fill="#4447e7"/><rect x="457.19" y="207.87" width="3.03" height="2.67" fill="#4036d4"/><rect x="460.2" y="207.87" width="3.03" height="2.67" fill="#4036d4"/><rect x="463.2" y="207.87" width="3.03" height="2.67" fill="#4754f4"/><rect x="466.21" y="207.87" width="3.03" height="2.67" fill="#1ca2e2"/><rect x="469.22" y="207.87" width="3.03" height="2.67" fill="#8dc751"/><rect x="472.22" y="207.87" width="3.03" height="2.67" fill="#eac438"/><rect x="475.23" y="207.87" width="3.03" height="2.67" fill="#8dc752"/><rect x="478.24" y="207.87" width="3.03" height="2.67" fill="#1ca2e2"/><rect x="481.24" y="207.87" width="3.03" height="2.67" fill="#4852f4"/><rect x="484.25" y="207.87" width="3.03" height="2.67" fill="#3e31cf"/><rect x="427.13" y="210.52" width="3.03" height="2.67" fill="#3e31ce"/><rect x="430.14" y="210.52" width="3.03" height="2.67" fill="#423ede"/><rect x="433.14" y="210.52" width="3.03" height="2.67" fill="#4656f4"/><rect x="436.15" y="210.52" width="3.03" height="2.67" fill="#3578f6"/><rect x="439.15" y="210.52" width="3.03" height="2.67" fill="#2692ee"/><rect x="442.16" y="210.52" width="3.03" height="2.67" fill="#209ce7"/><rect x="445.17" y="210.52" width="3.03" height="2.67" fill="#2692ee"/><rect x="448.17" y="210.52" width="3.03" height="2.67" fill="#3578f6"/><rect x="451.18" y="210.52" width="3.03" height="2.67" fill="#4656f4"/><rect x="454.19" y="210.52" width="3.03" height="2.67" fill="#423fde"/><rect x="457.19" y="210.52" width="3.03" height="2.67" fill="#3e32cf"/><rect x="460.2" y="210.52" width="3.03" height="2.67" fill="#3e30cd"/><rect x="463.2" y="210.52" width="3.03" height="2.67" fill="#4240df"/><rect x="466.21" y="210.52" width="3.03" height="2.67" fill="#3b6bf6"/><rect x="469.22" y="210.52" width="3.03" height="2.67" fill="#1ca2e2"/><rect x="472.22" y="210.52" width="3.03" height="2.67" fill="#19b6c9"/><rect x="475.23" y="210.52" width="3.03" height="2.67" fill="#1ca2e2"/><rect x="478.24" y="210.52" width="3.03" height="2.67" fill="#3b6bf5"/><rect x="481.24" y="210.52" width="3.03" height="2.67" fill="#423fde"/><rect x="484.25" y="210.52" width="3.03" height="2.67" fill="#3d2cc9"/><rect x="427.13" y="213.17" width="3.03" height="2.67" fill="#3d2dc9"/><rect x="430.14" y="213.17" width="3.03" height="2.67" fill="#3f35d3"/><rect x="433.14" y="213.17" width="3.03" height="2.67" fill="#4344e3"/><rect x="436.15" y="213.17" width="3.03" height="2.67" fill="#4656f4"/><rect x="439.15" y="213.17" width="3.03" height="2.67" fill="#3d68f5"/><rect x="442.16" y="213.17" width="3.03" height="2.67" fill="#396ff6"/><rect x="445.17" y="213.17" width="3.03" height="2.67" fill="#3d68f5"/><rect x="448.17" y="213.17" width="3.03" height="2.67" fill="#4656f4"/><rect x="451.18" y="213.17" width="3.03" height="2.67" fill="#4344e3"/><rect x="454.19" y="213.17" width="3.03" height="2.67" fill="#3f35d3"/><rect x="457.19" y="213.17" width="3.03" height="2.67" fill="#3d2dca"/><rect x="463.2" y="213.17" width="3.03" height="2.67" fill="#3e30cd"/><rect x="466.21" y="213.17" width="3.03" height="2.67" fill="#423fde"/><rect x="469.22" y="213.17" width="3.03" height="2.67" fill="#4852f4"/><rect x="472.22" y="213.17" width="3.03" height="2.67" fill="#425df5"/><rect x="475.23" y="213.17" width="3.03" height="2.67" fill="#4852f4"/><rect x="478.24" y="213.17" width="3.03" height="2.67" fill="#423fde"/><rect x="481.24" y="213.17" width="3.03" height="2.67" fill="#3e2fcc"/><rect x="430.14" y="215.82" width="3.03" height="2.67" fill="#3d2ecb"/><rect x="433.14" y="215.82" width="3.03" height="2.67" fill="#3f35d3"/><rect x="436.15" y="215.82" width="3.03" height="2.67" fill="#423ede"/><rect x="439.15" y="215.82" width="3.03" height="2.67" fill="#4446e7"/><rect x="442.16" y="215.82" width="3.03" height="2.67" fill="#454aea"/><rect x="445.17" y="215.82" width="3.03" height="2.67" fill="#4446e7"/><rect x="448.17" y="215.82" width="3.03" height="2.67" fill="#423ede"/><rect x="451.18" y="215.82" width="3.03" height="2.67" fill="#3f35d3"/><rect x="454.19" y="215.82" width="3.03" height="2.67" fill="#3d2ecb"/><rect x="466.21" y="215.82" width="3.03" height="2.67" fill="#3d2dc9"/><rect x="469.22" y="215.82" width="3.03" height="2.67" fill="#3e31cf"/><rect x="472.22" y="215.82" width="3.03" height="2.67" fill="#3f34d1"/><rect x="475.23" y="215.82" width="3.03" height="2.67" fill="#3e31cf"/><rect x="478.24" y="215.82" width="3.03" height="2.67" fill="#3d2cc9"/><rect x="433.14" y="218.47" width="3.03" height="2.67" fill="#3d2dc9"/><rect x="436.15" y="218.47" width="3.03" height="2.67" fill="#3e31ce"/><rect x="439.15" y="218.47" width="3.03" height="2.67" fill="#3f34d2"/><rect x="442.16" y="218.47" width="3.03" height="2.67" fill="#3f35d3"/><rect x="445.17" y="218.47" width="3.03" height="2.67" fill="#3f34d2"/><rect x="448.17" y="218.47" width="3.03" height="2.67" fill="#3e31ce"/><rect x="451.18" y="218.47" width="3.03" height="2.67" fill="#3d2dc9"/><rect x="439.15" y="221.12" width="3.03" height="2.67" fill="#3d2bc7"/><rect x="442.16" y="221.12" width="3.03" height="2.67" fill="#3d2cc8"/><rect x="445.17" y="221.12" width="3.03" height="2.67" fill="#3d2bc7"/><rect x="469.22" y="242.32" width="3.03" height="2.67" fill="#3d2bc7"/><rect x="472.22" y="242.32" width="3.03" height="2.67" fill="#3d2cc8"/><rect x="475.23" y="242.32" width="3.03" height="2.67" fill="#3d2bc7"/><rect x="463.2" y="244.97" width="3.03" height="2.67" fill="#3d2dc9"/><rect x="466.21" y="244.97" width="3.03" height="2.67" fill="#3e31ce"/><rect x="469.22" y="244.97" width="3.03" height="2.67" fill="#3f34d2"/><rect x="472.22" y="244.97" width="3.03" height="2.67" fill="#3f35d3"/><rect x="475.23" y="244.97" width="3.03" height="2.67" fill="#3f34d2"/><rect x="478.24" y="244.97" width="3.03" height="2.67" fill="#3e31ce"/><rect x="481.24" y="244.97" width="3.03" height="2.67" fill="#3d2dc9"/><rect x="436.15" y="247.62" width="3.03" height="2.67" fill="#3e30cd"/><rect x="439.15" y="247.62" width="3.03" height="2.67" fill="#4037d5"/><rect x="442.16" y="247.62" width="3.03" height="2.67" fill="#413ad9"/><rect x="445.17" y="247.62" width="3.03" height="2.67" fill="#4037d5"/><rect x="448.17" y="247.62" width="3.03" height="2.67" fill="#3e30cd"/><rect x="460.2" y="247.62" width="3.03" height="2.67" fill="#3d2ecb"/><rect x="463.2" y="247.62" width="3.03" height="2.67" fill="#3f35d3"/><rect x="466.21" y="247.62" width="3.03" height="2.67" fill="#423ede"/><rect x="469.22" y="247.62" width="3.03" height="2.67" fill="#4446e7"/><rect x="472.22" y="247.62" width="3.03" height="2.67" fill="#454aea"/><rect x="475.23" y="247.62" width="3.03" height="2.67" fill="#4446e7"/><rect x="478.24" y="247.62" width="3.03" height="2.67" fill="#423ede"/><rect x="481.24" y="247.62" width="3.03" height="2.67" fill="#3f35d3"/><rect x="484.25" y="247.62" width="3.03" height="2.67" fill="#3d2ecb"/><rect x="433.14" y="250.27" width="3.03" height="2.67" fill="#3f34d2"/><rect x="436.15" y="250.27" width="3.03" height="2.67" fill="#4548e9"/><rect x="439.15" y="250.27" width="3.03" height="2.67" fill="#4062f5"/><rect x="442.16" y="250.27" width="3.03" height="2.67" fill="#3a6ef6"/><rect x="445.17" y="250.27" width="3.03" height="2.67" fill="#4062f5"/><rect x="448.17" y="250.27" width="3.03" height="2.67" fill="#4548e9"/><rect x="451.18" y="250.27" width="3.03" height="2.67" fill="#3f35d3"/><rect x="454.19" y="250.27" width="3.03" height="2.67" fill="#3d2dc9"/><rect x="457.19" y="250.27" width="3.03" height="2.67" fill="#3d2eca"/><rect x="460.2" y="250.27" width="3.03" height="2.67" fill="#3f35d3"/><rect x="463.2" y="250.27" width="3.03" height="2.67" fill="#4344e3"/><rect x="466.21" y="250.27" width="3.03" height="2.67" fill="#4656f4"/><rect x="469.22" y="250.27" width="3.03" height="2.67" fill="#3d68f5"/><rect x="472.22" y="250.27" width="3.03" height="2.67" fill="#396ff6"/><rect x="475.23" y="250.27" width="3.03" height="2.67" fill="#3d68f5"/><rect x="478.24" y="250.27" width="3.03" height="2.67" fill="#4656f4"/><rect x="481.24" y="250.27" width="3.03" height="2.67" fill="#4344e3"/><rect x="484.25" y="250.27" width="3.03" height="2.67" fill="#3f35d3"/><rect x="487.25" y="250.27" width="3.03" height="2.67" fill="#3d2dc9"/><rect x="430.14" y="252.92" width="3.03" height="2.67" fill="#3e30cd"/><rect x="433.14" y="252.92" width="3.03" height="2.67" fill="#4548e9"/><rect x="436.15" y="252.92" width="3.03" height="2.67" fill="#327ef6"/><rect x="439.15" y="252.92" width="3.03" height="2.67" fill="#14b3d2"/><rect x="442.16" y="252.92" width="3.03" height="2.67" fill="#2ac0ad"/><rect x="445.17" y="252.92" width="3.03" height="2.67" fill="#14b3d2"/><rect x="448.17" y="252.92" width="3.03" height="2.67" fill="#327ef6"/><rect x="451.18" y="252.92" width="3.03" height="2.67" fill="#4549ea"/><rect x="454.19" y="252.92" width="3.03" height="2.67" fill="#3f34d2"/><rect x="457.19" y="252.92" width="3.03" height="2.67" fill="#3f33d0"/><rect x="460.2" y="252.92" width="3.03" height="2.67" fill="#423fde"/><rect x="463.2" y="252.92" width="3.03" height="2.67" fill="#4656f4"/><rect x="466.21" y="252.92" width="3.03" height="2.67" fill="#3578f6"/><rect x="469.22" y="252.92" width="3.03" height="2.67" fill="#2692ee"/><rect x="472.22" y="252.92" width="3.03" height="2.67" fill="#209ce7"/><rect x="475.23" y="252.92" width="3.03" height="2.67" fill="#2692ee"/><rect x="478.24" y="252.92" width="3.03" height="2.67" fill="#3578f6"/><rect x="481.24" y="252.92" width="3.03" height="2.67" fill="#4656f4"/><rect x="484.25" y="252.92" width="3.03" height="2.67" fill="#423ede"/><rect x="487.25" y="252.92" width="3.03" height="2.67" fill="#3e31ce"/><rect x="430.14" y="255.57" width="3.03" height="2.67" fill="#4037d5"/><rect x="433.14" y="255.57" width="3.03" height="2.67" fill="#4062f5"/><rect x="436.15" y="255.57" width="3.03" height="2.67" fill="#14b3d2"/><rect x="439.15" y="255.57" width="3.03" height="2.67" fill="#b8c639"/><rect x="442.16" y="255.57" width="3.03" height="2.67" fill="#feca34"/><rect x="445.17" y="255.57" width="3.03" height="2.67" fill="#b8c639"/><rect x="448.17" y="255.57" width="3.03" height="2.67" fill="#14b3d1"/><rect x="451.18" y="255.57" width="3.03" height="2.67" fill="#3f63f5"/><rect x="454.19" y="255.57" width="3.03" height="2.67" fill="#413cdb"/><rect x="457.19" y="255.57" width="3.03" height="2.67" fill="#4038d6"/><rect x="460.2" y="255.57" width="3.03" height="2.67" fill="#4447e7"/><rect x="463.2" y="255.57" width="3.03" height="2.67" fill="#3d68f5"/><rect x="466.21" y="255.57" width="3.03" height="2.67" fill="#2692ee"/><rect x="469.22" y="255.57" width="3.03" height="2.67" fill="#12b1d5"/><rect x="472.22" y="255.57" width="3.03" height="2.67" fill="#1db8c2"/><rect x="475.23" y="255.57" width="3.03" height="2.67" fill="#12b1d5"/><rect x="478.24" y="255.57" width="3.03" height="2.67" fill="#2692ee"/><rect x="481.24" y="255.57" width="3.03" height="2.67" fill="#3d68f5"/><rect x="484.25" y="255.57" width="3.03" height="2.67" fill="#4446e7"/><rect x="487.25" y="255.57" width="3.03" height="2.67" fill="#3f34d2"/><rect x="490.26" y="255.57" width="3.03" height="2.67" fill="#3d2bc7"/><rect x="430.14" y="258.22" width="3.03" height="2.67" fill="#413ad9"/><rect x="433.14" y="258.22" width="3.03" height="2.67" fill="#3a6ef6"/><rect x="436.15" y="258.22" width="3.03" height="2.67" fill="#2ac0ad"/><rect x="439.15" y="258.22" width="3.03" height="2.67" fill="#feca34"/><rect x="442.16" y="258.22" width="3.03" height="2.67" fill="#f9fb15"/><rect x="445.17" y="258.22" width="3.03" height="2.67" fill="#feca34"/><rect x="448.17" y="258.22" width="3.03" height="2.67" fill="#2ac0ad"/><rect x="451.18" y="258.22" width="3.03" height="2.67" fill="#3970f6"/><rect x="454.19" y="258.22" width="3.03" height="2.67" fill="#4240df"/><rect x="457.19" y="258.22" width="3.03" height="2.67" fill="#413ad8"/><rect x="460.2" y="258.22" width="3.03" height="2.67" fill="#454aeb"/><rect x="463.2" y="258.22" width="3.03" height="2.67" fill="#3970f6"/><rect x="466.21" y="258.22" width="3.03" height="2.67" fill="#209ce7"/><rect x="469.22" y="258.22" width="3.03" height="2.67" fill="#1db8c2"/><rect x="472.22" y="258.22" width="3.03" height="2.67" fill="#2ac0ae"/><rect x="475.23" y="258.22" width="3.03" height="2.67" fill="#1db8c2"/><rect x="478.24" y="258.22" width="3.03" height="2.67" fill="#209ce7"/><rect x="481.24" y="258.22" width="3.03" height="2.67" fill="#396ff6"/><rect x="484.25" y="258.22" width="3.03" height="2.67" fill="#454aea"/><rect x="487.25" y="258.22" width="3.03" height="2.67" fill="#3f35d3"/><rect x="490.26" y="258.22" width="3.03" height="2.67" fill="#3d2cc8"/><rect x="430.14" y="260.87" width="3.03" height="2.67" fill="#4037d5"/><rect x="433.14" y="260.87" width="3.03" height="2.67" fill="#4062f5"/><rect x="436.15" y="260.87" width="3.03" height="2.67" fill="#14b3d2"/><rect x="439.15" y="260.87" width="3.03" height="2.67" fill="#b8c639"/><rect x="442.16" y="260.87" width="3.03" height="2.67" fill="#feca34"/><rect x="445.17" y="260.87" width="3.03" height="2.67" fill="#b8c639"/><rect x="448.17" y="260.87" width="3.03" height="2.67" fill="#14b3d1"/><rect x="451.18" y="260.87" width="3.03" height="2.67" fill="#3f63f5"/><rect x="454.19" y="260.87" width="3.03" height="2.67" fill="#413cdb"/><rect x="457.19" y="260.87" width="3.03" height="2.67" fill="#4038d6"/><rect x="460.2" y="260.87" width="3.03" height="2.67" fill="#4447e7"/><rect x="463.2" y="260.87" width="3.03" height="2.67" fill="#3d68f5"/><rect x="466.21" y="260.87" width="3.03" height="2.67" fill="#2692ee"/><rect x="469.22" y="260.87" width="3.03" height="2.67" fill="#12b1d5"/><rect x="472.22" y="260.87" width="3.03" height="2.67" fill="#1db8c2"/><rect x="475.23" y="260.87" width="3.03" height="2.67" fill="#12b1d5"/><rect x="478.24" y="260.87" width="3.03" height="2.67" fill="#2692ee"/><rect x="481.24" y="260.87" width="3.03" height="2.67" fill="#3d68f5"/><rect x="484.25" y="260.87" width="3.03" height="2.67" fill="#4446e7"/><rect x="487.25" y="260.87" width="3.03" height="2.67" fill="#3f34d2"/><rect x="490.26" y="260.87" width="3.03" height="2.67" fill="#3d2bc7"/><rect x="430.14" y="263.52" width="3.03" height="2.67" fill="#3e30cd"/><rect x="433.14" y="263.52" width="3.03" height="2.67" fill="#4548e9"/><rect x="436.15" y="263.52" width="3.03" height="2.67" fill="#327ef6"/><rect x="439.15" y="263.52" width="3.03" height="2.67" fill="#14b3d2"/><rect x="442.16" y="263.52" width="3.03" height="2.67" fill="#2ac0ad"/><rect x="445.17" y="263.52" width="3.03" height="2.67" fill="#14b3d2"/><rect x="448.17" y="263.52" width="3.03" height="2.67" fill="#327ef6"/><rect x="451.18" y="263.52" width="3.03" height="2.67" fill="#4549ea"/><rect x="454.19" y="263.52" width="3.03" height="2.67" fill="#3f34d2"/><rect x="457.19" y="263.52" width="3.03" height="2.67" fill="#3f33d0"/><rect x="460.2" y="263.52" width="3.03" height="2.67" fill="#423fde"/><rect x="463.2" y="263.52" width="3.03" height="2.67" fill="#4656f4"/><rect x="466.21" y="263.52" width="3.03" height="2.67" fill="#3578f6"/><rect x="469.22" y="263.52" width="3.03" height="2.67" fill="#2692ee"/><rect x="472.22" y="263.52" width="3.03" height="2.67" fill="#209ce7"/><rect x="475.23" y="263.52" width="3.03" height="2.67" fill="#2692ee"/><rect x="478.24" y="263.52" width="3.03" height="2.67" fill="#3578f6"/><rect x="481.24" y="263.52" width="3.03" height="2.67" fill="#4656f4"/><rect x="484.25" y="263.52" width="3.03" height="2.67" fill="#423ede"/><rect x="487.25" y="263.52" width="3.03" height="2.67" fill="#3e31ce"/><rect x="433.14" y="266.17" width="3.03" height="2.67" fill="#3f34d2"/><rect x="436.15" y="266.17" width="3.03" height="2.67" fill="#4548e9"/><rect x="439.15" y="266.17" width="3.03" height="2.67" fill="#4062f5"/><rect x="442.16" y="266.17" width="3.03" height="2.67" fill="#3a6ef6"/><rect x="445.17" y="266.17" width="3.03" height="2.67" fill="#4062f5"/><rect x="448.17" y="266.17" width="3.03" height="2.67" fill="#4548e9"/><rect x="451.18" y="266.17" width="3.03" height="2.67" fill="#3f35d3"/><rect x="454.19" y="266.17" width="3.03" height="2.67" fill="#3d2dc9"/><rect x="457.19" y="266.17" width="3.03" height="2.67" fill="#3d2eca"/><rect x="460.2" y="266.17" width="3.03" height="2.67" fill="#3f35d3"/><rect x="463.2" y="266.17" width="3.03" height="2.67" fill="#4344e3"/><rect x="466.21" y="266.17" width="3.03" height="2.67" fill="#4656f4"/><rect x="469.22" y="266.17" width="3.03" height="2.67" fill="#3d68f5"/><rect x="472.22" y="266.17" width="3.03" height="2.67" fill="#396ff6"/><rect x="475.23" y="266.17" width="3.03" height="2.67" fill="#3d68f5"/><rect x="478.24" y="266.17" width="3.03" height="2.67" fill="#4656f4"/><rect x="481.24" y="266.17" width="3.03" height="2.67" fill="#4344e3"/><rect x="484.25" y="266.17" width="3.03" height="2.67" fill="#3f35d3"/><rect x="487.25" y="266.17" width="3.03" height="2.67" fill="#3d2dc9"/><rect x="436.15" y="268.82" width="3.03" height="2.67" fill="#3e30cd"/><rect x="439.15" y="268.82" width="3.03" height="2.67" fill="#4037d5"/><rect x="442.16" y="268.82" width="3.03" height="2.67" fill="#413ad9"/><rect x="445.17" y="268.82" width="3.03" height="2.67" fill="#4037d5"/><rect x="448.17" y="268.82" width="3.03" height="2.67" fill="#3e30cd"/><rect x="460.2" y="268.82" width="3.03" height="2.67" fill="#3d2ecb"/><rect x="463.2" y="268.82" width="3.03" height="2.67" fill="#3f35d3"/><rect x="466.21" y="268.82" width="3.03" height="2.67" fill="#423ede"/><rect x="469.22" y="268.82" width="3.03" height="2.67" fill="#4446e7"/><rect x="472.22" y="268.82" width="3.03" height="2.67" fill="#454aea"/><rect x="475.23" y="268.82" width="3.03" height="2.67" fill="#4446e7"/><rect x="478.24" y="268.82" width="3.03" height="2.67" fill="#423ede"/><rect x="481.24" y="268.82" width="3.03" height="2.67" fill="#3f35d3"/><rect x="484.25" y="268.82" width="3.03" height="2.67" fill="#3d2ecb"/><rect x="463.2" y="271.47" width="3.03" height="2.67" fill="#3d2dc9"/><rect x="466.21" y="271.47" width="3.03" height="2.67" fill="#3e31ce"/><rect x="469.22" y="271.47" width="3.03" height="2.67" fill="#3f34d2"/><rect x="472.22" y="271.47" width="3.03" height="2.67" fill="#3f35d3"/><rect x="475.23" y="271.47" width="3.03" height="2.67" fill="#3f34d2"/><rect x="478.24" y="271.47" width="3.03" height="2.67" fill="#3e31ce"/><rect x="481.24" y="271.47" width="3.03" height="2.67" fill="#3d2dc9"/><rect x="469.22" y="274.12" width="3.03" height="2.67" fill="#3d2bc7"/><rect x="472.22" y="274.12" width="3.03" height="2.67" fill="#3d2cc8"/><rect x="475.23" y="274.12" width="3.03" height="2.67" fill="#3d2bc7"/><path d="M400.07,180.5V286.5M403.08,180.5V286.5M406.09,180.5V286.5M409.09,180.5V286.5M412.1,180.5V286.5M415.1,180.5V286.5M418.11,180.5V286.5M421.12,180.5V286.5M424.12,180.5V286.5M427.13,180.5V286.5M430.14,180.5V286.5M433.14,180.5V286.5M436.15,180.5V286.5M439.15,180.5V286.5M442.16,180.5V286.5M445.17,180.5V286.5M448.17,180.5V286.5M451.18,180.5V286.5M454.19,180.5V286.5M457.19,180.5V286.5M460.2,180.5V286.5M463.2,180.5V286.5M466.21,180.5V286.5M469.22,180.5V286.5M472.22,180.5V286.5M475.23,180.5V286.5M478.24,180.5V286.5M481.24,180.5V286.5M484.25,180.5V286.5M487.25,180.5V286.5M490.26,180.5V286.5M493.27,180.5V286.5M496.27,180.5V286.5M499.28,180.5V286.5M502.29,180.5V286.5M505.29,180.5V286.5M508.3,180.5V286.5M511.3,180.5V286.5M514.31,180.5V286.5M517.32,180.5V286.5M398.75,181.37H519M398.75,184.02H519M398.75,186.67H519M398.75,189.32H519M398.75,191.97H519M398.75,194.62H519M398.75,197.27H519M398.75,199.92H519M398.75,202.57H519M398.75,205.22H519M398.75,207.87H519M398.75,210.52H519M398.75,213.17H519M398.75,215.82H519M398.75,218.47H519M398.75,221.12H519M398.75,223.77H519M398.75,226.42H519M398.75,229.07H519M398.75,231.72H519M398.75,234.37H519M398.75,237.02H519M398.75,239.67H519M398.75,242.32H519M398.75,244.97H519M398.75,247.62H519M398.75,250.27H519M398.75,252.92H519M398.75,255.57H519M398.75,258.22H519M398.75,260.87H519M398.75,263.52H519M398.75,266.17H519M398.75,268.82H519M398.75,271.47H519M398.75,274.12H519M398.75,276.77H519M398.75,279.42H519M398.75,282.07H519M398.75,284.72H519" stroke="#000" stroke-opacity="0.2" stroke-width="0.8" fill="none"/><circle cx="428.3" cy="228.4" r="1.4" fill="#ff1010"/><circle cx="440.4" cy="228.4" r="1.4" fill="#ff1010"/><circle cx="428.3" cy="238.9" r="1.4" fill="#ff1010"/><circle cx="440.4" cy="238.9" r="1.4" fill="#ff1010"/><line x1="486" y1="232.2" x2="486" y2="214.5" stroke="#f3801a" stroke-width="1.5"/><polygon points="486,210.8 488.1,215 483.9,215" fill="#f3801a"/><line x1="486" y1="232.2" x2="500.02" y2="219.94" stroke="#f3801a" stroke-width="1.5"/><polygon points="502.8,217.5 501.02,221.85 498.26,218.69" fill="#f3801a"/><line x1="486" y1="232.2" x2="505.8" y2="232.2" stroke="#f3801a" stroke-width="1.5"/><polygon points="509.5,232.2 505.3,234.3 505.3,230.1" fill="#f3801a"/><line x1="486" y1="232.2" x2="500.04" y2="244.74" stroke="#f3801a" stroke-width="1.5"/><polygon points="502.8,247.2 498.27,245.97 501.07,242.84" fill="#f3801a"/><line x1="486" y1="232.2" x2="486" y2="249.3" stroke="#f3801a" stroke-width="1.5"/><polygon points="486,253 483.9,248.8 488.1,248.8" fill="#f3801a"/><line x1="486" y1="232.2" x2="471.96" y2="244.74" stroke="#f3801a" stroke-width="1.5"/><polygon points="469.2,247.2 470.93,242.84 473.73,245.97" fill="#f3801a"/><line x1="486" y1="232.2" x2="466.4" y2="232.2" stroke="#f3801a" stroke-width="1.5"/><polygon points="462.7,232.2 466.9,230.1 466.9,234.3" fill="#f3801a"/><line x1="486" y1="232.2" x2="471.98" y2="219.94" stroke="#f3801a" stroke-width="1.5"/><polygon points="469.2,217.5 473.74,218.69 470.98,221.85" fill="#f3801a"/><text transform="translate(486.3,207.9) scale(1,1.0)" font-size="7.4" font-weight="bold" fill="#fff" text-anchor="middle" dominant-baseline="central">0</text><text transform="translate(504.7,214.6) scale(1,1.0)" font-size="7.4" font-weight="bold" fill="#fff" text-anchor="middle" dominant-baseline="central">0</text><text transform="translate(513.8,232.4) scale(1,1.0)" font-size="7.4" font-weight="bold" fill="#fff" text-anchor="middle" dominant-baseline="central">0</text><text transform="translate(505,250.1) scale(1,1.0)" font-size="7.4" font-weight="bold" fill="#fff" text-anchor="middle" dominant-baseline="central">0</text><text transform="translate(486,257.9) scale(1,1.0)" font-size="7.4" font-weight="bold" fill="#fff" text-anchor="middle" dominant-baseline="central">0</text><text transform="translate(467.2,250.1) scale(1,1.0)" font-size="7.4" font-weight="bold" fill="#fff" text-anchor="middle" dominant-baseline="central">0.1</text><text transform="translate(460.5,232.4) scale(1,1.0)" font-size="7.4" font-weight="bold" fill="#fff" text-anchor="middle" dominant-baseline="central">0.5</text><text transform="translate(467.2,215.1) scale(1,1.0)" font-size="7.4" font-weight="bold" fill="#fff" text-anchor="middle" dominant-baseline="central">0.3</text><text transform="translate(486,232.6) scale(1,1.0)" font-size="7.4" font-weight="bold" fill="#fff" text-anchor="middle" dominant-baseline="central">0.1</text><text transform="translate(391.7,179.2) scale(1,1.0)" font-size="8.4" fill="#111" text-anchor="middle" dominant-baseline="central" class="k">40</text><text transform="translate(391.7,193.21) scale(1,1.0)" font-size="8.4" fill="#111" text-anchor="middle" dominant-baseline="central" class="k">35</text><text transform="translate(391.7,207.23) scale(1,1.0)" font-size="8.4" fill="#111" text-anchor="middle" dominant-baseline="central" class="k">30</text><text transform="translate(391.7,221.24) scale(1,1.0)" font-size="8.4" fill="#111" text-anchor="middle" dominant-baseline="central" class="k">25</text><text transform="translate(391.7,235.26) scale(1,1.0)" font-size="8.4" fill="#111" text-anchor="middle" dominant-baseline="central" class="k">20</text><text transform="translate(391.7,249.27) scale(1,1.0)" font-size="8.4" fill="#111" text-anchor="middle" dominant-baseline="central" class="k">15</text><text transform="translate(391.7,263.29) scale(1,1.0)" font-size="8.4" fill="#111" text-anchor="middle" dominant-baseline="central" class="k">10</text><text transform="translate(391.7,277.3) scale(1,1.0)" font-size="8.4" fill="#111" text-anchor="middle" dominant-baseline="central" class="k">5</text><text transform="translate(410.5,293.4) scale(1,1.0)" font-size="8.4" fill="#111" text-anchor="middle" dominant-baseline="central" class="k">5</text><text transform="translate(425.99,293.4) scale(1,1.0)" font-size="8.4" fill="#111" text-anchor="middle" dominant-baseline="central" class="k">10</text><text transform="translate(441.47,293.4) scale(1,1.0)" font-size="8.4" fill="#111" text-anchor="middle" dominant-baseline="central" class="k">15</text><text transform="translate(456.96,293.4) scale(1,1.0)" font-size="8.4" fill="#111" text-anchor="middle" dominant-baseline="central" class="k">20</text><text transform="translate(472.44,293.4) scale(1,1.0)" font-size="8.4" fill="#111" text-anchor="middle" dominant-baseline="central" class="k">25</text><text transform="translate(487.93,293.4) scale(1,1.0)" font-size="8.4" fill="#111" text-anchor="middle" dominant-baseline="central" class="k">30</text><text transform="translate(503.41,293.4) scale(1,1.0)" font-size="8.4" fill="#111" text-anchor="middle" dominant-baseline="central" class="k">35</text><text transform="translate(518.9,293.4) scale(1,1.0)" font-size="8.4" fill="#111" text-anchor="middle" dominant-baseline="central" class="k">40</text><text transform="translate(459.9,301.2) scale(1,1.0)" font-size="8.4" fill="#111" text-anchor="middle" dominant-baseline="central" class="k">x(cell)</text><text transform="translate(382.8,234.4) rotate(-90) scale(1,1)" font-size="8.1" fill="#111" class="k" text-anchor="middle" dominant-baseline="central">y(cell)</text><rect x="525.1" y="179.5" width="3.5" height="107" fill="url(#cbg)"/><text transform="translate(534.1,276.9) scale(1,1.0)" font-size="8.4" fill="#111" text-anchor="middle" dominant-baseline="central" class="k">5</text><text transform="translate(534.1,266.01) scale(1,1.0)" font-size="8.4" fill="#111" text-anchor="middle" dominant-baseline="central" class="k">10</text><text transform="translate(534.1,255.12) scale(1,1.0)" font-size="8.4" fill="#111" text-anchor="middle" dominant-baseline="central" class="k">15</text><text transform="translate(534.1,244.24) scale(1,1.0)" font-size="8.4" fill="#111" text-anchor="middle" dominant-baseline="central" class="k">20</text><text transform="translate(534.1,233.35) scale(1,1.0)" font-size="8.4" fill="#111" text-anchor="middle" dominant-baseline="central" class="k">25</text><text transform="translate(534.1,222.46) scale(1,1.0)" font-size="8.4" fill="#111" text-anchor="middle" dominant-baseline="central" class="k">30</text><text transform="translate(534.1,211.58) scale(1,1.0)" font-size="8.4" fill="#111" text-anchor="middle" dominant-baseline="central" class="k">35</text><text transform="translate(534.1,200.69) scale(1,1.0)" font-size="8.4" fill="#111" text-anchor="middle" dominant-baseline="central" class="k">40</text><text transform="translate(534.1,189.8) scale(1,1.0)" font-size="8.4" fill="#111" text-anchor="middle" dominant-baseline="central" class="k">45</text><text transform="translate(533,177.75) scale(1,1)" font-size="8.2" fill="#111"><tspan font-size="6" x="-4" dy="-0.6">&#215;</tspan><tspan x="0" dy="0.6">10</tspan><tspan font-size="5.4" dx="0.6" dy="-3.6">-3</tspan></text><text x="426" y="329" font-size="12" fill="#000" stroke="#000" stroke-width="0.12" textLength="75" lengthAdjust="spacingAndGlyphs">(<tspan font-weight="bold">f</tspan>) scenario 6</text></g>
</svg></body></html>
